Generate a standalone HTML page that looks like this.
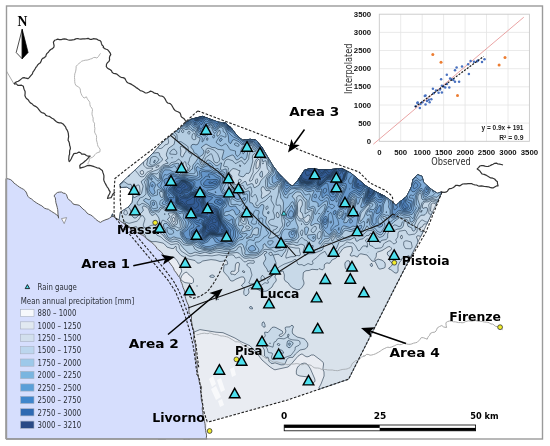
<!DOCTYPE html><html><head><meta charset="utf-8"><style>html,body{margin:0;padding:0;background:#fff;overflow:hidden}svg{display:block}</style></head><body>
<svg width="550" height="446" viewBox="0 0 550 446">
<rect width="550" height="446" fill="#fff"/>
<path d="M6.4 71L14 84" fill="none" stroke="#aaa" stroke-width="1"/>
<path d="M100.5 53.4L99.4 54.9 98.5 56.5 96.9 58 95 57.4 93.4 57.6 92 58.6 90.4 59 89 59.6 87.1 60.1 85.2 60.2 83.3 60.7 81.7 61.2 80.3 62.5 78.8 63.6 77.5 64.8 76.2 66.2 76.1 68.1 75.9 70 75.5 71.9 74.8 73.8 74.6 75.7 74.5 77.6 74.7 79.5 74.7 81.3 75 83.4 75.8 85.4 78.1 86.7 80 88.3 80.4 90.1 80.5 92 81.1 93.6 81.8 95.2 82.7 96.6 84.1 98.1 86.4 96.8 87.1 98.3 87.9 99.8 89.1 101.1 89.8 102.6 89.9 104.4 90.4 106.4 91.8 108 92.5 109.6 92.3 111.4 92 113.1 92.1 114.8 92.6 116.5 93.2 118.1 93 120 93.4 121.7 94.5 123.2 94.5 124.9 94.5 126.7 94.9 128.3 94.7 130.2 94.6 132.1 95.4 133.8 96.4 135.5 96.6 137.3 96.4 139.2 96.7 141 97.2 142.7 97.5 144.4 97.9 146.1 99 147.7 100.1 149.2 99.9 151.9 97.9 152.5 96.2 153.3 94.9 154.6 93.9 156.2 92.4 157.3 90.7 158 89.2 158.9 89.3 160.8 88.4 162.4 87.8 164" fill="none" stroke="#b4b4b4" stroke-width="1"/>
<path d="M14 84L15.2 82.6 16.7 81.8 18.3 81.2 19.7 80.2 21.1 79.1 22.6 77.9 24.2 77.6 26 78.2 27.9 78.7 29.2 77.6 30.4 76.2 31.5 74.9 32.4 73.8 32.9 72.1 34 70.6 35 69.1 35.8 67.5 36.9 66.3 37.7 64.9 38.9 63.8 40.4 62.8 41.1 61.3 41.6 59.6 42.7 58.4 44.4 57.6 45.7 56.6 46.2 54.8 47 53.4 48.4 52.3 49.4 50.7 50.7 49.5 52.5 48.6 53.9 47.1 54.1 45.5 53.7 43.8 53.4 42.1 54.6 40.3 56.2 39.8 57.7 39.1 59.4 39.6 61 39.7 62.7 39.1 64.3 38.8 66 39.1 67.7 39.7 69.3 40.2 71.1 40.1 72.6 39.8 74.2 39.6 75.8 38.9 77.4 38.5 79 38.9 80.8 39.2 82.8 38.9 84.7 38.9 86.5 38.7 88.2 38.4 89.9 39.3 91.6 39.4 93.3 38.7 95 38.8 96.9 39.2 98.2 40.1 99.9 40.5 101 41.7 101.4 43.4 102 45 103.5 46.4 103.2 47.6 104.7 48.6 106.3 49.3 107.7 49.8 109 51.3 110.1 52.8 110.8 54.7 109.8 56.2 109.4 57.9 109.6 59.8 109 61.4 107.4 62.7 106.5 64.3 106.3 66.7 107.3 68 108.7 68.9 110.3 69.7 111.5 70.8 112.1 72.3 113.5 73.4 115.3 73.6 116.9 74.1 118.2 75.3 119.5 76.4 121.1 77.3 123.1 77.6 124.8 78.4 125.8 80.3 126.8 82 128.2 83 129.9 83.6 131.6 84.4 133.3 85.5 134.8 86.6 136.1 87.6 137.6 88.4 139 89.4 140.2 90.6 141.9 91 143.5 91.8 145.1 92.8 146.8 93 148.6 92.2 150.6 91.1 152.4 91.7 153.9 92.8 155.6 93.3 157.4 93.7 158.7 95.2 160.2 96 162.2 96.2 163.7 97 164.7 98.3 165.6 99.9 166.4 101.6 167.7 103 170.2 103.7 171.7 105.2 172.7 107 173.8 109 175 110.4 176.6 111.3 178.5 112 180 113.1 180.7 114.6 181.1 116.4 182.2 117.6 183.8 118.5 184.8 119.7 186 121.7 187.3 123.6" fill="none" stroke="#333" stroke-width="1.2" stroke-linejoin="round"/>
<path d="M14 84L16.4 83.9 17.8 85.3 19.6 85.4 21.5 85.2 23.4 86.3 23.7 88.1 24.3 89.8 25.1 91.6 25.1 93.5 24.9 95.6 25.6 97.3 26.8 98.8 28.4 100 29.3 101.6 30.4 102.9 31.9 103.7 33.1 104.9 34.5 105.9 36.1 106.6 37.4 107.7 38.4 109 39.5 110.3 40.5 111.7 41.8 112.6 43.6 113.1 45 114 45.9 115.4 47.5 116 49.2 116.3 50.6 117.3 52 118.3 53.6 119 54.8 120.3 56.2 121.5 57.6 122.4 59.3 122.9 61.3 122.9 63.1 124 64.5 125.7 65.7 127.1 66.1 128.7 67.2 130.2 67.9 131.8 68.3 133.4 68.5 135.1 68.6 136.8 68.3 138.5 68.1 140.3 69 141.9 69.5 143.6 69.6 145.3 70.2 146.9 70.4 148.7 69.7 150.5 69.6 152.3 69.6 154.2 69 155.9 68.9 157.8 68.7 159.6 69.2 161.7 70.4 160.3 71.3 158.8 72 157 72.9 155.4 73.8 153.7 75.5 153.3 77.2 153.1 79 152.1 80.5 152.7 81.7 154.1 83.4 154.1 85 154.4 86.3 155.5 88.2 156.2 90.2 156.1 88.8 157.4 87.5 158.8 86.2 160.2 85.4 160.7 84 162 82.5 163.2 80.8 164.2 79.8 165.7 80 168.1 81.8 167.6 83.6 167.2 85.3 166.5 87 165.7 89.2 165.3 90.8 165.7 92.5 166.2 94.2 166.7 95.8 167.3 97.4 168 99 168.1 100.9 169.4 102.3 170.4 102.8 172.2 103.4 173.9 103.9 175.6 103.9 177.4 103.7 179.4 104.1 181 104.8 182.5 105.5 183.9 106.3 185.4 107.1 186.8 108.4 188.5 109.2 190.5 110.3 191.8 109.4 194 108.2 196.1 107.5 198.5 109.2 198 111.1 197.6 111.9 196.1 112.6 194.5 113.6 193.1 115 192" fill="none" stroke="#333" stroke-width="1.2" stroke-linejoin="round"/>
<path d="M439 193.6L440.4 192.2 442.2 192.2 444.1 192.4 445.8 192.2 447.4 191.2 448.4 189.6 449.8 188.6 451.7 188.3 452.9 187.8 454.4 186.7 455.9 185.3 457.6 185.4 459.5 185.9 461 185.1 462.7 184 464.5 183.9 466.3 183.8 468.1 183.6 469.9 183.6 471.9 183.7 473.3 184.5 474.9 184.8 476.5 185 478 185.8 479.6 186.1 481.3 185.8 482.8 186.1 484.6 186.5 486.4 186.6 488.2 186.8 490 187.4 491.8 187.9 493.4 187.8 495.1 186.7 496.9 185.8 498.1 185.8 497.5 183.7 497.4 181.8 495.9 180.5 494.6 179 492.8 178.2 490.7 177.9 489.1 177 487.5 176.1 485.9 175.1 484.2 174.4 482.1 174 481 172.7 480 171.1 478.7 170 477.2 168.9 478.5 167.6 479.9 166 481.5 165.5 483.2 165.7 484.9 166.2 486.6 166.5 488.3 166.4 489.9 165.7 491.5 164.9 493.1 164.2 494.7 163.3 496.4 163.1 497.9 164 499.6 164.2 501.4 164.5 503 165" fill="none" stroke="#333" stroke-width="1.2" stroke-linejoin="round"/>
<path d="M363.1 356L364.9 356.1 366.3 354.4 368.1 354.4 370.1 355.2 371.8 355 373.6 354.5 375.3 353.9 377 353 378.6 352.2 380.2 351.2 381.6 350.2 383.1 349.2 384.8 348.4 386.4 347.6 387.9 347.2 389.8 347.5 391.5 347 393.1 346.3 394.8 345.7 396.5 344.7 398.1 344.3 399.8 344.7 401.5 344.5 403.1 343.5 404.8 343.4 406.5 343.9 408.2 344.3 410.1 344.3 411.8 343.9 413.5 343.2 415.3 342.8 417.2 342.3 418.7 340.8 420.1 339.3 421.3 337.6 423.3 337.7 425.2 338.4 427.2 339.2 427.8 337.6 428.6 336.2 429.9 335 430.1 333.6 432.2 332.5 434.9 332.1 436.1 330.9 436.8 329.2 437.4 327.8 439.4 326.6 441.8 325.5 443.7 327 446.6 327.5 446.1 325.3 445.9 322.7 447.7 321.5 449.6 321 451.8 321.2 453.5 321.8 455.2 321.8 456.9 322.2 458.6 322.6 460.3 322.5 462.1 322.8 463.8 322.5 465.4 321.7 467.1 321.2 468.7 320.8 470.5 321 472.2 321.1 474 320.7 475.7 320.6 477.4 321 479.2 321.3 480.9 321.3 482.7 321.6 484.4 322 486.2 322.1 487.9 322.3 489.6 323.1 491 324 492.8 324.1 494.1 325 495.4 326.3 497.8 326.7 500.2 327.4 501.4 328.7 502.7 329.8" fill="none" stroke="#aaa" stroke-width="1"/>
<path d="M110 220L100 300 150 439 206 439 207 422.3 287.5 400 348.6 379.2 376 325 404 270 424 230 442 192 437.6 193.3 433 190.5 428.4 187 423.7 182.5 422 176.3 417.6 174.7 413 179.4 411.4 187 406.7 196.4 399 202.5 396 205.6 391.3 201 385 196.4 372.7 190.2 366 186 360.4 181 351 173.2 341.8 168.5 334 169 326.4 170 318 169.5 311 168.5 304.7 170 302 174 298.5 179.4 296 182 293 186 290.2 185 284.5 179.3 278.8 173.6 273.1 166 267.4 156.4 261.7 146.9 256 140.2 250.2 139.3 242.6 140.2 236.9 135.5 231.2 127.9 225.5 123.1 217.9 122.1 210.2 119.3 202.6 116.4 195 118.3 191 119.3 186.5 122.2 181 127.4 177 130.6 173 133.5 169.5 136.4 165 140.2 160 145 156 149.5 152 154.2 147 158.8 142 163.5 137 168 132.3 172.5 126 178.5 120 184 120.4 187.5 126.7 187 131.4 189.8 133 196.1 132.2 202.4 128.3 207.1 123.6 210.3 120.4 212 119.1 220.2 113 216.5 112.5 213.8Z" fill="#e9ecf2"/>
<path d="M131.9 253L131 251.1 130 251 129.5 252 129.7 253 131 253.8ZM116.3 345.3L123 344.9 129.6 343 134 342.5 140 342.5 146 343.7 147 343.4 148.3 340 147 337.6 146 337.3 137 338.5 132 337.4 127 335.6 123 335.2 119 335.7 112.8 335.6ZM127.1 364L124.3 367.5 132.6 390.7 137 390.6 139.5 390 140.7 388 140 382 140.4 379 145.1 367 144.2 363 142.9 361 141 359.7 139 359.5 134 360.3 129 359.1ZM149.4 422L149.7 425 151 427.2 155 429.4 157.4 432 158.1 434 158 439 165.9 439 161.9 435 160.7 433 162.5 429 162.9 426 162 423 160.5 421 157 418.6 154 418.2 151 419.3ZM107.1 244L110 245.6 115 250.7 118 252.3 120 252.1 121.4 251 122.8 249 124 245.5 127 244.5 130 244.2 132 244.8 135 247.4 139 249 139.3 250 137 250.2 136 250.8 135.2 252 135.6 254 137 255.2 138 255.2 139 254.6 141 252 143 252.6 147 254.9 149 253.4 152 252.3 155 252 158 252.5 160 252.3 162 253.1 163.6 256 163.7 257 162.6 260 163 261.4 166 259.2 168 259.4 169 259 172 256.8 173 256.9 175 258.2 177.3 261 180.5 267 181.8 271 178.9 277 178 278.1 175 278.1 172 278.8 163 283.8 160.6 286 158.9 291 161.8 296 161.5 300 162 301.3 166 301.9 169 303.3 172 302.7 174 303.1 175 304 176 306.1 179.6 310 177.9 315 178 318 177 319 176.6 321 175.6 322 172 323.1 164.7 330 163.9 331 164 332 165.5 333 170 334.9 178 335.1 192 332.9 200 329.6 216 332.2 223 332.7 234.9 338 241 341.7 250 345.8 256 352 262 360 270 366.9 274 369.5 275 369.8 288 367 291 364.4 298 356.2 301 354.2 302.1 354 305 356.1 307 356.9 309 356.4 311.3 355 313.8 355 321.8 361 323 362.3 323.6 364 322.9 369 324 371.9 324.1 376 321 384 318.8 388 319.8 389 348.6 379.2 424 230 442 192 437.6 193.3 433 190.5 428.4 187 423.7 182.5 422 176.3 417.6 174.7 413 179.4 411.4 187 406.7 196.4 399 202.5 396 205.6 391.3 201 385 196.4 372.7 190.2 366 186 351 173.2 341.8 168.5 326.4 170 318 169.5 311 168.5 304.7 170 298.5 179.4 293 186 290.2 185 278.8 173.6 273.1 166 261.7 146.9 256 140.2 250.2 139.3 242.6 140.2 236.9 135.5 231.2 127.9 225.5 123.1 217.9 122.1 202.6 116.4 191 119.3 186.5 122.2 181 127.4 165 140.2 160 145 152 154.2 120 184 120.4 187.5 126.7 187 131.4 189.8 133 196.1 132.2 202.4 128.3 207.1 120.4 212 119.1 220.2 113 216.5 112.5 213.8 110 220ZM187 272.3L189.2 275 192 277.1 193.4 279 193.5 282 192 283.6 185 282.6 182.2 281 180.6 279 181.6 276 184.2 273 186 272.2ZM197.5 286L197 286.4 196.6 286 197 285.8ZM159 267.7L160.9 267 161.5 266 161.8 264 161 263 160 263.6 158.3 266 158.1 267ZM298.5 366L297.1 368 296.3 371 296.4 374 297.3 375 300 376 307 376.8 308.7 378 311 381.8 312 382.6 313 382.8 314.5 382 315 381 314.8 379 310.5 369 308 365 306 363.4 304 363.1 301 364ZM189.7 439L187 438.3 183.5 439Z" fill="#d9e2eb" stroke="#1c3044" stroke-width="0.6" stroke-linejoin="round"/>
<path d="M135.7 235L136 233.7 135 233.6 134.2 234 134 235.1 135 235.7ZM210 277L213 277.5 214.1 277 214.5 276 213 275 211.9 275 209.7 276ZM218 299.9L218.3 299 217.9 299ZM250 308.6L252.4 309 252.5 308 252 307.1 251 306.5 250 306.6 249.4 308ZM110 222.3L115 225.3 123 226.6 129 230.2 131.4 228 136 226.6 136.9 227 137.3 229 139 231.6 143.9 234 144.9 235 146 238.1 151 241.3 152 241.7 156 241.6 163 243.1 164.4 244 167 247.1 172 248.6 174 248.3 175 246.6 176 246.3 176.4 247 176.1 249 176.3 250 181 255.4 188 259 195 260.5 197 262.8 198 263.2 200 262.9 202.7 261 211 259.6 216 260.2 220 261.5 223 261.2 226 259.9 227 261 227.8 264 227 264.7 225 264.7 224 265.6 223.5 271 223.9 272 228.4 277 230 280 231 280.9 233 281 236 279.1 241 277 243 276.9 244 277.4 244.8 279 245 281 244 283.1 241.7 285 241.7 286 244 288 244.4 289 243.7 292 244 294.4 245 295.5 246 295.6 247 295.2 248.8 293 249 292 248.4 289 250 287.8 252 287.5 256 288.4 261 291.2 262 291.4 266 291.2 268 290.2 272 287 273.5 284 276.1 281 276.2 279 274.8 277 275.7 275 278 272.6 283 270.9 284.4 275 284.2 279 285 280.8 288.3 283 290 285.8 293 288.1 297 289.8 300 289.3 302.3 287 304 284 303.9 282 302.9 279 303.3 273 303.9 272 306 270.7 309 270.5 312 269.3 317 269.7 318 269.6 319 268.6 322 269.8 323 269.6 324.3 268 324.3 265 324.9 264 327 262.8 329 263.4 330 263 331.9 260 336.2 258 342.6 249 344 247.9 347 246.8 351 246.4 352 247 352.4 251 350 255 350.8 256 352 256.1 354 255.5 357 257 358 256.5 358.5 255 359.9 254 361 253.8 367 255 372 261.1 375 261.3 378.3 268 379 268.9 380 269.1 384.4 268 385.1 267 385.3 264 384.4 262 382 260.2 378 259.1 375 260.7 374.8 259 376.1 257 376.5 253 377.7 252 382 250.6 388 246.8 390 246.6 391.4 248 391.5 249 390.9 250 387.6 252 387.2 254 388 255.4 391.7 258 392.3 259 389.5 260 389.7 261 392.1 263 392.5 264 391.5 266 388.8 268 388.9 269 391 269.8 395 273 397 273 398.1 271 398 266 399.8 262 401 260.7 402.3 258 409 255.7 409.7 257 408.8 260.3 417.7 242.7 417.7 240 416.4 237 417 236 418 235.7 420.8 236.4 423.2 231.5 421 231.4 420 230.8 419.2 229 419.5 228 420 227.5 422.1 227 424 224 426.9 223.9 432.3 212.5 430.5 211 431.2 204 433 202.9 435 203.6 436.1 204.4 442 192 437.6 193.3 433 190.5 428.4 187 423.7 182.5 422 176.3 417.6 174.7 413 179.4 411.4 187 406.7 196.4 399 202.5 396 205.6 391.3 201 385 196.4 372.7 190.2 366 186 351 173.2 341.8 168.5 326.4 170 318 169.5 311 168.5 304.7 170 298.5 179.4 293 186 290.2 185 278.8 173.6 273.1 166 261.7 146.9 256 140.2 250.2 139.3 242.6 140.2 236.9 135.5 231.2 127.9 225.5 123.1 217.9 122.1 202.6 116.4 191 119.3 186.5 122.2 181 127.4 165 140.2 160 145 152 154.2 120 184 120.4 187.5 126.7 187 131.4 189.8 133 196.1 132.2 202.4 128.3 207.1 120.4 212 119.1 220.2 113 216.5 112.5 213.8 110 220ZM175 220L174 222.1 173 221.6 172.1 219 173 217.5 174 217.4ZM239.5 264L238.6 269 238.8 271 235 275 233 274.2 231 274.2 230.7 273 231 271.8 232 271.2 234 271.3 235 270.8 235.4 265 236 263.3 238 262.3 239 262.9ZM245 272L244 272.8 242.7 272 242.4 271 244 270.8ZM259.8 162L259 166.9 257 168.8 256 168.5 256 164 257 161.1 258 159.7 259 159.3 259.7 160ZM368 252L368.1 252 368 252.1ZM402.5 238L402 238.7 401 238.6 400.5 238 400.3 237 401 235.5 402 235.4ZM143.7 172L143.3 174 142 174.5 140.8 174 140 172 140.6 171 142 170.5 143 170.8ZM408.2 261.6L407.5 263 407.5 263ZM371 266.4L372 266.4 372.5 266 372 263.5 371 263.5 370 264.9ZM344.8 264L345.3 268 346 269.1 347 269.3 349.4 265 349.9 262 349 260.8 347 260.8 345.5 262ZM262 325.4L263 326.7 264 327.2 265.1 327 265 324.8 264 322.1 263 321.9 262.1 323ZM290 326.9L286 327 285 327.8 285.9 331 285.3 333 282.4 336 281 336.6 279.3 336 279.2 335 280 334.3 282 333.9 282.9 333 282.3 331 276 327.6 274 327 272 327.5 268 332.6 264.8 332 264.6 333 265.3 336 260.6 341 260.5 343 264.4 350 264.6 356 266 357.4 268 357.2 268.5 358 268.8 361 271 363.3 273 363.5 275 362.8 281 364.9 284 364.7 284.9 364 287.1 359 288 358.1 290 357.4 293 357.3 295.4 354 300 350 305.3 349 307.3 347 307.9 345 307.6 343 305 339.5 304 338.8 297.1 337 292.9 334 292.2 332 292.5 329 293.5 327 293 325.9 292 325.3 291 325.6ZM270.4 343L270 343.5 269.6 343 270 342.7Z" fill="#c8d9e8" stroke="#1c3044" stroke-width="0.6" stroke-linejoin="round"/>
<path d="M172.2 134.1L175 135.7 175.6 137 174.2 144 173.4 145 168.8 148 168.1 149 166.3 154 166.6 156 167.9 158 167.5 159 165.8 160 165.7 161 168 162.7 168 163.3 166 163.5 162.8 165 158 169.5 150 172.4 147.1 175 145 178.6 141.5 181 141.2 182 143.2 186 141.6 193 140 195.1 137 196.1 135 197.4 134 197.6 132.9 196.5 132.2 202.4 128.2 207.2 130 209.1 132.1 216 134 218 136 217.9 143.1 211 143.3 210 142.2 207 143 206.2 144 205.9 147 207.3 148.5 209 149.9 213 151 214.6 152 215.4 153 215.3 155 213.8 156 213.7 158.9 218 159.6 222 158.4 226 158.1 231 158.9 232 162.9 235 166 239 170 241.6 172 242.1 176 241.3 179 242.4 183 247.9 188.4 253 190 253.8 192 253.5 195 252.1 200 253.6 205 252.2 210 253.6 216 252 226 253.6 237 252.5 239 253.2 242.5 257 244 258 246 258.3 250 257.8 253 258.3 257 257.4 262.4 254 264 251.6 266 251.4 267 252 266.5 253 264.6 254 264.3 255 265.5 257 265.8 259 263.4 263 264.1 265 266.9 269 268 272 274 268.5 276 265 276 262.8 273.2 255 278 254.2 279 254.5 281 256.6 282 256.4 283.2 254 285.6 251 286.7 246 288 245 293 244.1 296 245.5 298 245.3 301 244.1 303.7 245 304.5 246 304.5 247 303 252 305 255.6 308 253.8 313 253.6 322 250.3 323 249 323.5 245 325 243.6 331 243 333.8 246 334.2 249 335 249.9 336.3 249 339 242.4 340 241.4 343 241.3 347 239.8 350 239.9 354 237.6 355.2 238 356.1 241 357 241.4 360 239.4 363 238.8 366 235.8 369 235.4 370 233.6 371 233.2 374.9 236 376.2 239 379 241 380 243 380.9 241 382 240.3 386 239.6 387.7 238 387.7 234 389 231 390 230.2 392 229.8 395 230.3 397 229.2 400 228.9 401.9 228 403.3 226 404 222.2 405 221.1 406 220.9 406.8 222 408 226.3 411.9 228 412.1 230 413 231 414 231.1 415.3 230 415.4 228 414.5 226 414.6 225 417 219.6 421 215.2 424 215.2 425 214.7 426.5 213 427.4 211 427.6 209 427 207.7 425 207.6 423 208.5 422.6 208 422.3 206 423.4 203 425 201.9 428 201.9 432 199.8 434 200.1 437.5 201.5 442 192 437.6 193.3 433 190.5 428.4 187 423.7 182.5 422 176.3 417.6 174.7 413 179.4 411.4 187 406.7 196.4 399 202.5 396 205.6 391.3 201 385 196.4 372.7 190.2 366 186 351 173.2 341.8 168.5 326.4 170 318 169.5 311 168.5 304.7 170 298.5 179.4 293 186 290.2 185 278.8 173.6 273.1 166 261.7 146.9 256 140.2 250.2 139.3 242.6 140.2 236.9 135.5 231.2 127.9 225.5 123.1 217.9 122.1 202.6 116.4 191 119.3 186.5 122.2 181 127.4ZM181 146L185.9 149 186.2 151 184.2 154 183 156.8 182 157 181 156.4 180.5 155 180.9 151 180.2 147ZM209.1 152L208 153.3 206.9 153 207 151.5 208 150.4 209.2 151ZM239.6 165L240 164.8 241 166 240 166.7 239.5 166ZM255 153.5L257 156.6 260 155.5 261 155.8 263 162 265 160.7 266 160.8 267.4 169 269.3 171 268 173.5 261 180.4 259 185 255 187.6 254 187.6 252.8 184 252 183.6 251 183.7 247 185.3 246 181.8 245 181.2 239 185.5 238 185.6 236 184.6 233 185 231.7 180 231.9 176 229.3 173 230 171.1 233 168.5 236 169.1 239 170.7 240 170.7 238.5 175 239.5 176 243 176.9 244.3 176 246 173.5 247 173.2 248 173.6 249 173.1 250 171.6 252.8 161 252.3 157 253 155 254 153.9ZM279.2 215L279 217.1 278 217.8 277 217.4 276.1 215 277 212.1 278 212.6ZM302.3 202L302.3 205 300.7 208 300.3 211 300.6 212 302 212.9 303.5 218 304 218.3 308 215.1 309 215 310 216.1 310.1 218 309.4 220 308 222 307 222.6 306 222.7 305 221.8 303 218.4 302.1 219 300 219 297.2 215 297.7 212 297.4 203 299 200.4 300 199.6 301.4 200ZM334 239.4L332 241.3 331.6 240 331.9 238 333 236.2 334 236.3 334.3 237ZM352 205.6L352.1 203 353 202.3 353.5 203 353.3 204 353 205ZM420.9 211L422 211 421 212.5 420.6 212ZM422 210L422 210.7 422 210ZM165.4 214L165 214.4 164.2 214 165 213.8ZM173.3 213L175 213.9 176.6 216 177.7 222 177 224.2 173 226.2 172 226 170 222.1 167.6 220 167.7 219 169 218.1 170 216.3 168.3 214 168.7 213ZM172.4 158L172 158.2 171.7 158 172 157.6ZM185.7 162L186.3 166 187.9 168 187.9 169 187 171.1 185 172 183.6 171 184.1 168 182.8 166 182.7 165 183.3 163 185 161.4ZM244.7 220L244 221.6 243 221.4 241.8 220 241.7 218 243 217.2 244 217.5ZM264 187.1L266 190.6 270 190.7 270.5 191 270.5 192 268.9 194 262 198.6 261.2 197 261.9 193 261 190 261.3 188 262 186.9 263 186.6ZM272 252.9L272.5 255 270 255.4 269 254.1 268.8 253 271 252.1ZM132.4 193.8L133.5 192 133.3 191 131.2 189 131.8 186 131 184.3 128 184.3 124 181.5 123 182 121.3 184 120 184.1 120.4 187.5 126.7 187 131.4 189.8ZM148.1 158L146.7 164 146.9 165 147.8 166 149 166.3 152 166.6 154 166.1 158 163.4 160 162.6 162.4 160 162.5 159 160 156 159.2 153 158 152.5 152.9 153.2ZM263 162.8L262.8 164 263 164.1 263.1 164ZM128.1 176.5L129.3 176 129.6 175.1ZM260 176L261 177.2 262.2 177 262.6 174 262 171.1 261 171.6 259.6 174ZM286.8 346L288 347.4 290 347.7 293 344 293.1 343 292.3 342 290.2 341 288 340.6 287.2 342ZM280 352L283 353.5 283.7 353 283.4 352 281.7 350 280 349.8 279.4 351Z" fill="#b4cde2" stroke="#1c3044" stroke-width="0.6" stroke-linejoin="round"/>
<path d="M176.2 131.2L179 132.8 180 129.4 181 128.6 183 128 186 129.7 189 128.8 190 129.2 192 131.2 195 130.6 195.4 131 196.5 136 197 136.7 200 137.9 199.8 140 198 144.1 196 144.9 194 144.3 192 144.6 191.1 146 191 147.2 191.2 148 193 149.5 194 152.7 197 154.2 198.9 157 195.6 162 193 165 192.4 169 191 169.6 189.3 172 187 173.4 184 174 181.6 173 180 170 178 168 178 166.3 179.2 164 178 163.2 173 164.2 169 166.7 165 166.7 163 167.5 161.7 169 159.3 174 159.5 178 159 179.2 158 178.9 153 174.6 151 174.6 150 175.3 148.6 177 146.9 181 147.2 185 146.6 189 148.3 195 150.8 198 150.3 199 149 199.9 146 198.5 145 198.7 143.7 200 143.8 201 149 204.7 152 211.1 153 211.3 155 210.4 158 210.4 159 209.7 160 207.5 162 207 164 207.7 167 210.4 170 210.5 175 211.8 177.8 215 181.6 222 182.3 227 181 229.1 177 231 175 228.8 172 228.3 170 227.4 167 223.6 165 223.3 164 223.8 163.4 225 163.7 227 165.7 230 165.9 233 167.8 237 168.8 238 171 238.3 173 237.1 174 236.9 177 238 180 238.4 182 239.9 183.1 242 184 242.8 188 244 193 243.9 197 247.4 203 249.4 207 249.8 210 250.7 217 248.3 222 248.8 225 249.8 230 249.6 234 248.4 238 244.9 241 243.7 242 244 243 245.1 245.2 251 244.7 253 245 254.3 247 254.9 250 254.3 256 254.1 259.1 253 263.2 248 263 245 264 243.9 265 243.8 266.1 246 269 248.1 271 248.1 274 247.1 276 248.4 280 248.3 281.1 248 281.7 247 281.7 244 285 241.5 286 241.3 289 242 292 240.7 296 239.9 298.8 237 298.9 236 297.7 232 298.2 227 296.1 222 295.1 217 296.2 209 296 207.1 294.9 204 295 200 294 198.3 292.3 197 292.3 196 295 192.9 297 191.8 300 192.1 301 192.7 304.5 198 307 199.8 307 209 308 209.9 309 209.8 312 208.3 313 208.2 313.7 209 313.9 210 313 214 313.4 218 311 223 310.7 225 311 225.7 312 225.5 315 223.5 319.2 224 319.6 225 319.5 228 322 230.9 322.5 233 321.6 239 319 242 319 243.3 320 244.3 324 239.3 325 238.7 328 238.6 329 238 332 234.2 334 232.8 335 233.1 337 236.9 338 237.5 340 236.6 341.7 235 344 231.1 346 230.2 350 231.6 352 231.2 355 229.8 356 230 356.8 231 357.4 233 359 234 364 231.1 367 225.8 369 228.4 373 229.1 376 232.6 379 234.6 381 234.9 382.2 234 385 230.1 387 225.1 388 224.1 391 224.5 391.9 224 394 221.7 400 217.2 403 218.3 406 217.6 409 217.5 410 218.2 410 221 410.5 222 412 222 414 219.9 415.9 214 419.8 208 420 206 417.7 199 417.9 196 419 193.8 420 193 421 193.4 421.9 199 423 199.9 427 199.3 434 196.8 437 197.3 439 195 440.9 194.3 442 192 437.6 193.3 433 190.5 428.4 187 423.7 182.5 422 176.3 417.6 174.7 413 179.4 411.4 187 406.7 196.4 399 202.5 396 205.6 391.3 201 385 196.4 372.7 190.2 366 186 351 173.2 341.8 168.5 326.4 170 318 169.5 311 168.5 304.7 170 298.5 179.4 293 186 290.2 185 278.8 173.6 273.1 166 261.7 146.9 256 140.2 250.2 139.3 242.6 140.2 236.9 135.5 231.2 127.9 225.5 123.1 217.9 122.1 202.6 116.4 191 119.3 186.5 122.2 181 127.4ZM206 144L212 147.5 215 147.6 218 149.4 223.6 150 223.9 151 222 158 222 159 223 160.2 227 157.1 232 155 233 155.1 234 156 236 159.6 237 159.9 238 159.6 241 157.2 242 157.2 244 159.7 245 160 246.5 158 247.1 156 247.8 151 247.6 148 249.4 146 251 145.1 252 145.7 253.2 149 254 149.9 256 150.3 258 152.5 259 153 262 153.2 264 155.9 268.1 158 269 163.4 271.4 166 272.1 168 272.5 171 272 172.6 267.7 178 267.2 181 267.7 187 269 187.4 271 186.8 274 187.1 278 184 279 183.9 280 184.8 280.2 187 279.7 192 280.7 195 280.7 198 282.6 200 283.5 203 283.2 210 282.6 213 283.1 217 284.9 221 284.4 226 283.5 228 281.2 231 280 234.5 279 235.4 277 235.5 273 237.9 270 238.3 268.5 238 268.6 237 270.6 234 270.6 232 269.5 228 265.8 223 265.7 221 266.5 218 266.4 217 263.9 216 262.7 214 262.7 212 263.9 207 263.7 205 263 204.5 261 204.8 259 207.5 258 208 254.5 207 252.2 203 250 202.7 249.6 202 249.6 192 249 190.9 248 190.9 245 192 244 191.7 242.2 188 241 187.5 238 189.2 235 188.5 231 189.1 229 188 228 185 228.8 182 226.7 176 226.2 169 225 169 222 170.3 221 170.1 220.4 169 221.6 163 221 162.7 218 165.3 216 165.7 211 161.2 208 159.7 207.4 160 205.5 163 203 164.8 202 165.1 201 164.4 200 162 200 159 199.3 157 203 154.5 204 152 203.5 150 201.4 148 201.7 147ZM207.7 140L207 140.6 206.6 140 206.3 139 207 137.9 208 138ZM210.1 131L210 131.1 210 130.8ZM220 134L218 136.2 217 136 216.8 134 219 130.2 220 130.5 220.3 133ZM246.6 148L244.2 153 243 154.1 242.8 152 243.8 148 245 146.9 246.1 147ZM318.8 214L319.2 213 319 214.1ZM355.1 202L355.1 204 353.5 209 352.9 213 351.7 215 350 215.7 349 215.1 348.8 214 350.7 202 352 200 353 199.3 354 199.3ZM370 206.1L366.3 211 364 217.1 361.1 221 360 221.4 359.6 219 361 212.9 367.9 205 369 204.7 369.7 205ZM384 216.2L387.3 218 386.5 219 385 219.4 383 218.1 382.6 217 383 216.3ZM163.2 193L163 196.8 162 197.7 160.8 197 160.3 196 159.4 193 159.5 192 161 191.4 162 191.6ZM243 214.5L246.6 216 247.1 219 248.5 222 248.5 224 251.4 226 252.3 227 252.4 228 250 230.4 246 230.8 243 232.1 242 231.9 241.4 230 243.4 227 243.5 226 242 224.9 239 225.9 238.4 225 239.2 221 238.8 218 239.8 216 241 214.9ZM250.1 215L248.6 215 249 214 250.4 214ZM258.6 229L258.2 234 257.6 235 256 235.1 253 234.2 252 237.1 249 237.7 247 238.8 246.1 238 250 236 250.8 235 252.8 230 254 228.6 256 227.7 258 227.9ZM367.2 222L367 223.2 367.2 220 368 218.4 368.7 219 368.7 220 368 221.8ZM154 163L155 161.8 155 159.9 153.5 162ZM268 214L269 213.3 269 211.6 267.7 212 267.5 213ZM302 224L301 224.1 302 224ZM304.6 228L305 234.6 306.5 235 308.4 230 308.6 228 307 226.8 305.6 227ZM308 238.1L312 241 313 241.5 314 241.4 315 240.6 315.8 239 315.7 235 315 234.3 308 235.1 307.2 236ZM311 248.8L312.5 248 313.2 247 313 245.4 309.2 247 309.4 248Z" fill="#9cc0e0" stroke="#1c3044" stroke-width="0.6" stroke-linejoin="round"/>
<path d="M220 141.5L221 141.1 222 139.8 222.2 139 221.1 138 219.9 139 219.5 141ZM152 179.9L152.2 178 151 177.8 150.6 179 151 180.3ZM150.4 183L148.9 189 149.1 190 151.7 194 153 194.4 154 194.1 155 193 155 192 153.9 189 155.4 186 155.2 184 154 182.2 152 181.4ZM244 200.5L245 200.3 245.7 199 245 197.4 243.1 198 242.4 199ZM152.4 205L153 205.7 154.4 205 154.7 203 154 202 153 201.9 152 202.9ZM206 166L201 168.7 200 168.5 198 166.5 196.7 167 195.9 169 197.6 173 197.8 175 197.2 176 196 176.3 190 175.4 183 175.6 179 174.3 176 171.8 173 171.9 169.9 170 165 169.8 164 170.4 162 174 161 180.7 160 182.3 157.3 184 156.9 185 159.4 188 163 190 164 191.1 164.7 193 164.8 199 164 200.6 162 203 162.3 204 165.5 205 168 207 171.7 209 175.5 210 179 213.4 180 213.6 182 212.8 183 213.1 183.6 215 183 218 185.9 222 185.9 226 185.2 228 182 231 181.2 233 182.5 237 186 240.8 188 241.8 197 242.6 200.9 246 204 247.5 206 247.9 211 248.2 217 245.7 222.5 246 226 247 229 246.8 234 244.6 238 238.8 239 238 242 237.2 242.6 236 239.9 234 238 230 236 227.4 234 223 234.2 219 233.2 217 229 214.4 227 215.5 225 215.8 224 215.1 223.9 214 225 212.2 226 211.6 229 211.4 232 209.7 233 209.8 234 210.6 236 214.9 237 215.1 239.4 213 240 211 237.5 209 236 206.3 234 206 231 206.8 229 205.6 228.4 204 229.9 197 231 194.7 232 194 233 194 233.5 197 236 198.9 238 199.6 239.8 199 240.2 198 239.7 196 240.1 193 239 192.5 231 191.7 227 193.2 224 192.6 222.6 191 221.7 188 222.1 186 224.6 182 223.5 174 219 172.5 217 170.6 214 170.8 210.4 168 209.7 166 209 165.6ZM183.4 125.1L187 126.8 190 124.7 191 124.7 193 127.4 196 126.9 197 128.1 198 132.3 199 133.2 201 133.6 203 135.5 204 135.9 206 135.1 206.9 134 206.7 129 208 126.7 210 125 211 125 212 126 213.2 129 215 130.7 216 130.3 219 126.5 221 126.1 223 126.6 224 127.1 224.6 128 227.7 134 228.3 136 228.8 142 230 143.5 231 143.2 232.6 140 234 139.5 239 141.8 242 144.9 252 143 253.4 144 255 146.5 257.4 148 259 150.3 260 151 263 151.6 265.6 153.4 261.7 146.9 256 140.2 250.2 139.3 242.6 140.2 236.9 135.5 231.2 127.9 225.5 123.1 217.9 122.1 202.6 116.4 191 119.3 186.5 122.2ZM273.8 167L275.5 173 275 174.6 272 177 272.3 182 272.9 183 274 183.5 278 181.2 280 181.2 281.7 182 282.1 188 285 194.8 286 194.8 291 188.9 302 187.9 305 190.5 308 191.7 311 191.3 313 190.5 314 190.8 313.9 192 312.3 195 311.6 200 312.1 201 313 201.5 316 201.8 317.8 203 318.2 204 318 206.7 319 206.4 323 202.7 326 200.9 327 200.9 327.5 203 327.4 205 324 212.7 320.9 217 320 219 322.9 228 325 231.2 328 234.1 329 234.5 330 234.1 333 230.6 335 229.4 336 230.1 338 233.6 339.3 234 340.3 233 341.6 228 343 226 344 225.8 350 227.7 353 226 355 226.6 356.6 226 358 216 357 211.1 356.5 213 353.9 217 349 218.9 347 222.4 344 222.9 343.5 222 347 214.4 349.1 202 351.9 197 353 196 355 196.2 356 197.2 357 203.5 358 204.4 359.3 202 360.1 199 361 197.7 362 197.3 362.5 199 362.2 202 360.7 206 361 207.5 362 207.7 363 207.1 369 202.7 373 201.5 374.4 202 376.1 205 376 206.2 375 208.1 374 209.4 373 209.8 371 209.2 370 209.7 368.9 211 369 212.1 372 211.7 372.4 213 370.8 223 371.8 225 373 225.9 375 226.3 377 225.8 379 227.3 380 227.2 382 226.3 382.8 225 382 223.6 381 223.3 379 223.7 378.1 223 378.1 219 383.1 212 383.4 205 386 199.1 387 198.7 388.1 200 389 204 388.5 207 390.1 210 390.1 215 391 217.6 393 218.1 395 217.6 397 216.1 398.5 214 400 213.1 404 214.5 408 213.8 412 214.6 416.6 208 415 206.4 414.5 205 415.4 196 416.9 193 419 190.7 421 190.1 422 190.7 422.9 192 424.3 196 425 196.8 426 196.8 428.9 194 431 189 423.7 182.5 422 176.3 417.6 174.7 413 179.4 411.4 187 406.7 196.4 399 202.5 396 205.6 391.3 201 385 196.4 372.7 190.2 366 186 351 173.2 341.8 168.5 326.4 170 318 169.5 311 168.5 304.7 170 298.5 179.4 293 186 290.2 185 278.8 173.6ZM330.1 223L330 221.8 331 220.8 331.5 222 331.2 223ZM343.9 211L343.6 213 340 218.4 339 218.5 338 217.7 337.2 216 337.3 215 338.5 212 340 210 341 209.6 342.6 210ZM433 192.2L434 192 434.5 191.4 432.3 190ZM291 205.9L287.3 212 286 216.2 286.3 217 287.8 218 292 218.9 293.4 217 294.4 212 294.2 210 292.7 208 292 205.4ZM386 211.9L386 212.5 387 212 387 212ZM358.2 227L359 228.9 360 229.4 361 228.7 362 226 361.2 225 358.8 226ZM289.1 232L288.7 234 289.8 237 291 238.1 293 237.7 294 236.7 295.2 234 295.5 232 295 230.1 293 229.9ZM248.5 249L250 250.9 252 251.3 255.5 250 255.8 249 254 246 252 245.3 249.3 247 248.5 248Z" fill="#80acd8" stroke="#1c3044" stroke-width="0.6" stroke-linejoin="round"/>
<path d="M185 123.6L187 124.6 191 122.1 192 122.5 194 124.7 197 124.4 198 125.1 198.7 129 200 130.5 201.9 130 203 129 205.9 124 207 123.5 212 122.8 213 123.7 215 127.3 216 127.3 220 124 224 125 225 125.5 228 130.3 232.9 133 235.2 136 239 138.1 243 142.2 247 141.5 253 141.5 254.1 142 256.6 145 259 146.8 260.6 149 262 149.6 263.3 149.5 261.7 146.9 256 140.2 250.2 139.3 242.6 140.2 236.9 135.5 231.2 127.9 225.5 123.1 217.9 122.1 202.6 116.4 191 119.3 186.5 122.2ZM278 172.7L277.6 176 278 178 279.2 179 283 180.1 283.8 182 284 186.2 286 188.8 287 189.3 288.8 187 291.4 185.4 290.2 185ZM294 185.8L297 185.4 303 186.1 306 187.9 310 188.5 314 186.5 315 186.5 317 189.8 318 190.1 321 188.8 321.5 189 321.7 190 322 197.6 323 197.9 325 195.6 327 194.8 329 196.2 331 200.4 333 200.9 334 200.2 336.1 197 340.8 187 342 185.7 344 185.1 345.1 186 345.1 188 339 201 337.9 206 339 206.9 341 206.7 344 207.2 345 206.5 350.2 195 351 193.9 354 192.7 355 192.7 359 195.5 361 194.4 364 190.8 365 190.8 365.4 193 364.1 200 365 202.7 366 202.8 374 198.7 375 198.8 378 201.9 380 202.6 381 202.4 383 200.5 385.6 196.8 372.7 190.2 366 186 351 173.2 341.8 168.5 326.4 170 318 169.5 311 168.5 304.7 170 298.5 179.4 293.5 185.3ZM200.8 173L202 177 201.4 178 199 179.6 197 180.2 194 179.3 189 179.1 185 177.5 179 176.7 173 174.4 171 174.3 170 174.7 168.4 177 168.7 178 171 179.4 171.1 181 170 181 168.8 180 168 178.4 167 178.2 165 179 164 179.9 163.8 181 165.4 185 164 185.9 163.5 187 165.1 190 166.5 194 166.7 202 168 203.3 172 204.7 174.2 207 178 208.2 184 211 186.3 213 187.4 218 191.4 224 191.3 225 189 227.2 187.1 230 185 231.2 183.5 233 184 235.2 185.9 238 187 238.9 189 239 193 240.6 197.3 240 201 243 203 243.8 208 241.6 210.6 238 212 237.5 213.3 238 215.5 242 218.1 243 222 243.6 226 242.7 229 243.6 232 243.1 233.1 242 234 239.4 235.5 237 235.4 231 232.4 225 224 219.6 222.8 218 221.8 215 222.2 208 225 204.8 226.9 199 227 196.9 226 195.7 224 195.2 217 195.9 214 194.3 208 192.3 206.8 191 207.5 190 210 190.1 215 188.7 218 186.6 219.4 185 220.9 181 220.9 178 220 176.5 218 175.9 215.7 174 209 171.6 206 171.8 203 171.2 202 171.4 201.2 172ZM327.7 211L327.8 212 328 212 328.2 211ZM322.7 220L322.9 222 324 224.1 325 224.8 326 224.5 327 223 327.6 220 327 217.5 326 216.1 324 217.3ZM412.9 183L410.8 188.2 410.8 190 412 191.5 414 191.9 420 187 420.9 185 420.8 184 417 180.3 416 180 414.5 181ZM424.9 188L424.7 191 426 192.7 427 192.3 428 190.9 429.3 187.7 426.9 185.5ZM391.9 201.5L392.4 206 392.4 213 393 215.2 394 215.4 394.6 215 397 211.7 399 210.5 400 210.3 403 211.6 405 211.9 410 211 411.2 210 412.2 203 412 201 408.3 200 407 196 399 202.5 396 205.6ZM377.1 209L375.8 212 376 213.3 377 213.6 379 213 380.5 211 381 207 380 204.9ZM335.3 214L336.1 212 336 211 335 210.4 333.9 211 333 213 334 214.9Z" fill="#6596ca" stroke="#1c3044" stroke-width="0.6" stroke-linejoin="round"/>
<path d="M187 122.5L191 119.8 192 119.6 193 120.4 194 122.2 195 122.7 198 121.6 199 121.8 201 124.7 202 124.3 204 120.9 206 119.1 207 119.2 209 120.8 213.3 121 216 123.5 217 123.6 219.2 122.3 202.6 116.4 191 119.3 186.5 122.2ZM223 123L226 124.1 227.9 128 229 128.9 232.5 129.6 231.2 127.9 225.5 123.1ZM247.5 139.6L250 140.2 252.7 139.7 250.2 139.3ZM297 181L298 181.5 300 184.1 304 184.6 306 185.8 312 185.1 315 183.7 316 184.1 318 187.6 320 186.8 327 181.2 330 181.9 332 181.4 334 182.6 340 184.1 343 182.6 345.9 180 346.7 178 347 174 348.5 171.9 341.8 168.5 326.4 170 318 169.5 311 168.5 304.7 170 298.5 179.4ZM255 140.1L254.6 140 254.6 140ZM258.6 144L262.1 147.5 258 142.7ZM282.4 177.2L280 174.8 280 176 280.8 177ZM287 183.6L288 183.7 288.4 183.2 285 179.8 286 182.7ZM204 182.5L203.4 184 204 185.1 207 185.8 212 185.9 217 184.2 218 183.4 218.4 182 218 180.2 217 179.6 215 179.4 210 179.8 207 179.2ZM332.1 194L333 194.6 334.2 194 333.3 190 332 188.9 331.3 191ZM214.4 201L214.7 203 220 205.5 222.6 204 223.5 202 222.9 200 221 198.6 216 199.6ZM175 179.4L172.5 185 169.7 187 167.9 190 168.5 192 172.5 195 173.9 197 174 198 171 197.3 169 197.5 168.5 198 168.5 200 169 201.1 170 201.9 174 202.3 176 205.3 180 206.7 182 208.4 187 211 188.9 213 189.6 217 192 220.5 196 224.2 199.7 226 197 226.5 196 227.2 194.9 229 192 231 191.3 232 191.1 234 193 238.3 197 237.7 199 237.9 202 240.6 203 240.9 206 239.4 209.5 236 211 235.2 217 236.6 220 236.1 225 237.4 228 238.7 230 238.5 230.9 237 230.3 233 231 230 230 228.5 227.3 226 226.2 224 221.8 220 220.6 216 220.1 211 218.9 208 218 206.8 215 205.8 213 203.9 211 203.4 209 203.6 208.3 203 208.1 202 212.7 198 212.1 197 207 195.9 204.7 192 203 190.7 195 189.1 193.6 187 193.2 185 193.5 183 192.7 182 184 179.1 176 178.5ZM354 179L352.2 186 352.1 188 355.4 189 359 191.6 360 191.8 361 191.3 364 187.9 365 187.4 366.2 188 367.2 191 365.7 198 366 200.2 367 200.6 368 200.3 371.8 198 374.1 196 376.6 192.1 366 186 355.2 176.7ZM350 189L350 188.9 349.5 189ZM377.5 193L378.1 196 379 197.5 382 197.9 384.4 196.1 377.8 192.8ZM343.1 202L343 201.7 342.9 202ZM400.2 201.6L401 206.3 403 209.3 404 210 405 210 407.9 208 408.4 206 408 205 406 203.4 405.4 200 404.4 198.2Z" fill="#5082bc" stroke="#1c3044" stroke-width="0.6" stroke-linejoin="round"/>
<path d="M194.6 119L196 120 199 119 202 119 204.6 117.2 202.6 116.4 194.4 118.4ZM229.5 127L230.3 127.1 228.4 125.5 228.5 126ZM179 183.1L175 185 171.8 189 171.5 190 176.4 196 176.8 198 176.4 202 177 203.2 181 205 183.1 207 189 210.5 191 212.4 193.3 216 195 217.4 196 217.5 199 216.5 205.1 219 202.8 222 202.7 223 204.1 227 201.7 231 201.9 234 203 237.1 204 237.5 205 237.2 210 233.6 216 234.6 222 234.3 224 233.7 226 232.2 226.5 231 226.3 230 220 220 217 210.2 216 209.4 213 208.8 211 207.5 207 206.9 204.2 204 203.4 200 204.1 195 203.4 193 201 192 196 192 191 192.8 190 192.2 191.4 188 191 186 188.7 183 184.9 181 183 180.5 181 180.8ZM196 234L196 234 195.4 234ZM299 179L301 182.4 304 182.4 307 183.7 312 182.8 315 180 317 179.7 317.7 181 318 184 319 185.2 320 184.9 322.5 183 327 178.4 331 177.6 333 174.4 335 172.5 336.2 173 336.5 178 337 178.9 339.1 181 341 181.6 342.1 181 343.7 179 345.4 173 346.8 171 341.8 168.5 326.4 170 318 169.5 311 168.5 304.7 170ZM355.9 184L356.2 186 358 186.6 361 185.3 364 185 364.2 184.4 357.6 178.7 356.8 179 356.8 181ZM369 187.9L367.8 197 368 197.4 369 197.5 373 194 374.3 191ZM381 195.2L382 195.5 382.5 195.2 380 194Z" fill="#406eaa" stroke="#1c3044" stroke-width="0.6" stroke-linejoin="round"/>
<path d="M179 186.5L176 186.8 175 187.9 174.9 189 176 190.9 180 193.7 181 193.3 182.3 191 184 189.4 187.7 189 188.4 188 188.2 187 186.1 184 185.1 183 184 182.7 182 183 180.9 185ZM191.3 195L187 197.9 183 197 180 197.5 179 198.5 178.4 201 178.8 202 183 203.5 184.2 205 187 207 191 207.3 192 208 193 211.1 196.9 214 201.2 214 202.6 213 203 212 203 209 201.3 206 200.9 203 200 201.1 198.3 200 200 199.2 202 197.1 202 194.1 199 193.7ZM196.5 211L198 209.3 198.8 210 198.7 211 198 211.7 197 211.8ZM210.3 218L206.2 225 205 231 205.3 232 206 232.6 210 231.6 214 232.7 216 232.5 217.1 232 219.9 225 217 216 215 214.3 211 215.9ZM300.6 176.2L302 179.5 302.7 180 305 180.5 307 181.5 310 181.1 312 179.9 316 175.5 317 175.2 322 178.2 323 177.9 325 176.1 330 175.5 334 170.6 336.3 168.9 326.4 170 318 169.5 311 168.5 304.7 170ZM338.2 168.7L339 170.7 340 171.1 343.3 169.3 341.8 168.5Z" fill="#335c96" stroke="#1c3044" stroke-width="0.6" stroke-linejoin="round"/>
<path d="M209 379L213 376 216 384 212 387Z" fill="#f8f9fb"/>
<path d="M211 389L216 386 221 397 216 400Z" fill="#f8f9fb"/>
<path d="M217 380L221 378 225 390 221 392Z" fill="#f8f9fb"/>
<path d="M230 369L234 367 236 375 232 377Z" fill="#f8f9fb"/>
<path d="M218 401L222 399 224 405 220 407Z" fill="#f8f9fb"/>
<path d="M196.5 334.7L198.1 334.6 199.7 334 201.3 333.6 203 333.3 204.6 333.2 206.3 333.5 208 333.7 209.6 332.9 211.3 333.2 212.8 334 214.4 334.5 216.2 334.6 217.9 334.8 219.4 335.5 221.1 336 222.9 335.9 224.6 336.3 226.4 336.7 228.1 337.2 229.6 338.1 231.1 339 232.7 339.9 234.2 340.9 235.7 341.8 237.6 341.8 239.6 342 240.9 343.3 242 344.7 243.6 345.4 245.3 345.9 246.8 346.8 248.3 347.7 249.6 348.9 250.9 350.1 252.5 350.8 253.9 351.8 255.3 352.9 256.9 353.4 258.4 354.1 259.9 355 261.5 355.5 263.1 356.1 264.3 357.3 265.7 358.2 267.4 358.6 268.8 359.5 270.3 360.3 271.8 361.2 273.3 362.1 274.9 362.1 276.7 361.7 278.3 362.2 279.9 362.8 281.5 363.1 283.1 363.5 284.7 363.8 286.3 364.4 288 364.8 289.6 364.3 291.3 364.1 292.9 364.1 294.6 363.9 296.2 363.6 297.9 363.7 299.6 364.2 301.2 364.7 302.9 364.6 304.6 363.8 306.3 364.2 307.9 364.9 309.7 364.9 311.3 365.5 312.7 366.7 314.2 367.7 315.9 368 317.7 368 319.4 368.3 321 369.1 322.6 369.7 324.2 369.5 325.9 369.5 327.5 369.9 329.1 370 330.8 370 332.4 370 333.9 370.4 335.6 370.5 337.3 370.7 339 370.4 340.6 369.9 342.2 369.5 343.8 369.3 345.5 369.2 347.1 368.9 348.7 368.2 350 367.8 351 366.3 351.7 364.6 352.6 363.1 354.1 362 355.6 360.7 357.4 360.4 359.1 359.8 360.1 358.3 361.4 357.1 363.1 356.5 364.5 355.6" fill="none" stroke="#9ea3a8" stroke-width="0.8"/>
<path d="M259 157.5L256.5 159 255.3 161 253.1 169 253.3 172 249.5 180 249.3 181 250 181.5 252.3 180 254.2 175 258 171.1 260.1 168 261 160 260 157.3 259 157.5M157 165.7L155.6 167 156 167.5 158 167 159.1 166 159 165.3 158 165.1 157 165.7M257 178.6L255.6 180 255.6 183 256 183.8 257 183.2 257.7 181 257.8 180 257 178.6M239 179.4L238.1 181 239 182.8 241 181.5 241.3 180 240 179.1 239 179.4M138 184.9L136 186 135.7 187 137 193 138 193.8 139.7 193 140.1 191 139.5 186 139 185.1 138 184.9M431 201.6L428.6 205 429.2 208 428.7 213 429 213.9 431.3 214.5M436.9 202.8L433 201.2 431 201.6M125 210L123.6 213 124 214.1 126 215.1 127.4 214 127.3 212 126.1 210 125 210M173 214.5L172.3 215 170.7 219 170.7 220 173 224.7 175 223.8 176.2 221 175.4 216 174 214.6 173 214.5M427.8 222L426 222 422 219.8 420 221.5 417.8 225 416.9 232 414.7 234 409 235 407.5 234 406.2 231 405 230.2 399 231.3 398.1 233 397.8 237 395.6 240 396.8 242 395.9 243 394 243.9 393 243.6 391 241.2 389 240.7 384.6 243 383.7 244 382.5 247 381 247.9 375 248.6 373 246.5 370 245.4 369.5 245 369.5 240 368.5 239 367 238.8 365.5 240 365.6 241 367.3 243 367.6 247 367 247.4 366.3 247 366.6 246 363.4 246 362 247 360.1 250 359 250.9 358 250.5 355.6 246 353 242.9 350 242.9 347 241.9 346 242.3 343.7 245 340 247 336 253.7 333 256.1 331 256.7 327 255.3 325 251.3 320.1 254 317.4 257 312.2 261 313.1 263 312.8 264 312 264.5 311 264.6 308 263.5 304 265.9 302 264.6 299 264.8 297.7 264 296.4 260 295 259.2 292 261.3 284 264.2 279.1 267 276 270 270 278.3 267.3 280 268.4 282 268.3 283 267 283.3 265 282.6 261 285.6 256 283.3 250 284.1 248.8 283 252 275 250.1 268 247.4 266 246.8 265 247 264 250 262.9 253 263.4 254 263 254.5 262 254 260.7 251 260.8 249 260.3 248 260.4 246 261.8 244 261.8 240 257.4 239 257.1 236 258.1 235 257.4 234 255.5 232 254.8 223 255.7 219 254.7 212 255.9 206 255.5 201 255.9 196 254.9 191 256.3 189 256.1 181 250.9 179.3 248 179 245 178 244.1 176 243.8 171 244.7 164 240 161 237 157 235.2 155.1 232 155.1 230 156.3 227 156 225.8 155 225 151 225.4 146 228.1 144 227.5 143.2 225 145 219 143 215.6 140.9 216 138.4 220 137 221.2 129 223.4 125 221.9 121 222.9 116.6 222 113.5 219 111.9 215.4M134.8 170.1L137 172.2 140 176.4 142 176.9 144 176.4 147 172.3 151.9 170 152.8 169 152.3 168 147 168.3 146 167.8 143.5 165 143.6 162M157.8 147.5L159 148.5 161 148.5 163 147.3 165 144.9 168 144 168.7 142 167.8 137.8M404.7 241L407 240.8 411.2 242 412.2 247 411 248.8 406 248.6 405 248.1 403.6 245 403.8 242 404.7 241M289 246.8L288.2 248 287.7 251 285.8 256 286 258.2 291 256.7 294 256.7 297 255.4 299 255.8 300 255.4 300.5 254 299.5 251 299.7 249 299 248 296 248.1 289 246.8M262 275.5L261 277.4 261 280 264.8 280 265 279 264 276.9 263 275.7 262 275.5M287.6 335L288 334.1 289 334.4 289 336 288 337 288.2 338 289.8 339 292 339.8 298 340.3 299.5 341 300.2 343 300 344.2 299 345.3 295.3 347 295 350 291 355.3 281 358.9 277 358.2 274 359.7 272 359.2 271.5 357 272.5 354 272.1 353 269 352.7 268 352.1 267.4 349 264.9 345 265 343.5 266 343.2 269 346 273 347.2 274 342.3 276 341.3 277.3 339 279 338.3 284 338.9 287.8 337 287.6 335M278 343.3L277.2 344 277.5 345 279 345.8 280 345 279.7 344 278 343.3M182 129.8L181.4 131 181.7 132 183 132.9 184 131 183 129.7 182 129.8M189 131L187.8 132 188 133.4 189 134.4 190.1 133 190 132 189 131M194 132.8L192.5 134 191.8 137 192.4 139 194 139.9 196 139 194.8 134 194 132.8M251 147.8L250 148.1 249.7 149 249.9 153 249 155 248.7 159 245 164.1 244 163.9 242 161.1 241 160.6 236 163.4 235 163.4 233 160.9 228 159.1 226 159.9 225 161 223.4 166 224 166.6 227 166.6 228.5 168 227.6 173 230.5 182 231 187.2 232 187.7 235 186.9 238 187.3 243 185.2 244.7 189 246 189.5 250 186.9 251 187.1 252 192 251.1 194 251.1 196 252 197 253 196.6 255 194.2 256 195.2 257.8 200 257.6 201 256 202.7 255.6 204 256.7 206 258 205.8 260 203.1 265 201 270 196 271.7 196 271 200 274.3 206 272.9 211 274.3 215 274.5 218 274 219.2 271 219.4 269 220.8 268.3 222 269 223.6 271 225.2 277.8 227 276 229.1 273 230.3 273 233.1 274 234.3 279 231.5 280.5 228 282 226.9 282.8 225 281.8 221 281.8 217 280.1 212 281 209 280.6 206 280 204.9 277 205.4 276.3 205 276 204 276.4 200 278.1 195 279 186.7 278 185.7 277 185.9 274 189.6 271 188.5 268 189.1 266.3 188 265.7 186 265.4 181 266.7 177 271 171.8 271.4 170 271 168 268 165 267.7 160 267 158.6 263.2 158 262.2 155 261 153.9 258 154.7 256 151.9 255 151.5 252 152 251 147.8M207 148.4L205.9 150 204.9 155 201.5 161 201.8 163 203 163.3 204 162.7 204.6 162 205.2 158 211 153.6 212 154.5 214 161.5 216 162.9 218 162.5 219.3 161 219.7 159 217.7 154 214 150.1 209 148.2 207 148.4M171.8 150L174 149 175 149.6 176.8 152 176.8 154 176 154.5 169.8 154 170 152.4 171.8 150M151.8 157L154 156.4 156 156.6 158.8 159 158.8 160 156.4 163 153 165.3 150.9 165 149.7 164 150.8 158 151.8 157M298 195.9L296.7 197 296.9 200 296 203 296.9 208 296.2 217 299 220.9 302 220.9 303 221.4 305 224.9 308 224.4 310.3 221 311.6 218 312.2 211 312 210.3 311 210.4 305 214 305.4 202 301 196.2 300 195.6 298 195.9M353 200.7L351.6 202 351 204 350 212 351 213.3 354.4 204 354 201.1 353 200.7M267 205.9L265.9 207 266 209.4 267 209.3 268.2 208 268 206.5 267 205.9M133.8 210L135 209.8 137.1 211 137.7 212 137.2 213 136 213.7 134.2 213 133.8 210M438.7 199L437 200 433 198.5 423 201.6 421.8 203 420.5 209 415.7 219 414 221.9 412 223.9 410 224.5 408.5 223 407.6 220 406 219.3 405 219.5 402.3 222 401 226 399 226.8 396 225.1 394 224.9 391.9 227 389 227.8 388 228.6 383.2 236 380 237.4 379 237.3 372.5 231 371 230.4 367 230.8 364 234 359 236.2 356.6 235 355 232.4 354 232.8 351 236.5 349 237.7 345 238.3 344 238 343 236.6 338 239.6 337 239.6 336.5 239 335 235.1 334 234.3 332 235.5 329 240.6 328 241.1 325 241.2 324 242.1 320 247.7 315.8 250 311 251.6 306 250.2 306 247.8 307.8 242 307 240.8 304 239.6 302 237.2 298.9 240 297.5 243 293 241.8 290 243.3 286 243.8 284.9 245 284.1 249 283 250.2 279 250.5 275 252.1 272 249.9 265 249.3 263 250.3 259 254.5 255 255.8 250 255.8 246 256.5 243.9 256 242.4 254 241.2 247 240 246.5 238 247.4 236.6 250 234 251.2 225 251.5 216 249.9 210 252 205 250.5 199 251.6 194.7 249 193.4 246 192 244.8 187 245.4 183 244.5 180 240.9 176 239.2 174 239 171 240.2 169 239.6 166.9 238 163.4 233 160.3 227 162 220.6 163 220.1 168.7 223 170.2 226 171.5 227 176 226.7 179 228.2 180 227.9 180.5 227 179.6 221 176.9 215 175 212.8 171 211.6 166 211.4 163.5 209 162 208.4 161 208.9 159 212.2 156 211.6 152 213 151 212 149 207 145 204.2 142 203.3 140 204.9 139 205.1 137.8 205 137.1 204 137.3 202 138.9 200 139.7 198 143 197 146 194.1 145.6 185 144.3 182 146.5 179 148 176 151 173.2 157 174 159 171.8 160.4 169 163 166.2 165 165.5 169 165.4 171 162.7 175 161.8 176.5 161 178 159.2 179 159.1 181.4 162 181.3 164 179.8 167 181.5 169 182.5 172 183.9 173 185 173.1 187 172.4 188.5 171 190.2 166 188 164.1 188.1 163 189.2 161 189.7 158 192 155 191.6 154 189 152.9 188.4 152 188.1 147 187.4 146 181 141.7 178 141.6 177.2 141 177 135 176 133.5 174.4 132.5M242 216L240.6 217 240.2 218 240.7 222 241.6 223 245 224.4 246 223.9 246.3 223 245.7 218 244 216 242 216M247 225.6L246 226.2 245.5 228 246.6 229 248 229.1 249.5 228 249.6 227 247 225.6M314 226.4L310.9 230 311.6 232 313 232.6 314.4 232 316.5 229 316 226.7 315 226.2 314 226.4M302 229.7L300.1 232 301 235.1 302 235.8 303.1 231 302 229.7M319 231.5L317.4 234 317.3 237 318 239.1 320 238.3 321.2 235 321 232 320 231.2 319 231.5M288.9 343L290 343 290.5 344 290 345.1 289 345.4 288.5 344 288.9 343M213.8 135L214 134.6 214.8 136 214 138 213 137.8 212.3 137 213.8 135M235 143L234.4 144 234.7 145 238 146.5 238.8 146 239.1 145 238.5 144 236.6 143 235 143M197.9 163L201 166.9 202 166.9 206 164.1 210 162.9 212.3 165 214 168.5 215 168.9 218 168.4 220 171.6 224 172 224.9 173 225.3 177 226.6 181 226.2 183 223.4 188 223.8 190 225 191.2 226 191.5 229 190.4 234 189.9 238 190.8 241 189.8 243 194.9 247 193.8 247.7 195 247.1 201 244.6 204 242.5 208 243.5 209 248.2 211 246 213.4 242 212.7 241 213.2 236 218.9 235.2 222 237 226.8 239.2 229 240.8 233 243 233.8 246 233.4 247.1 234 247.1 235 244.4 237 243 239.3 239.7 240 237 242.3 235 245.3 230 248 226 248.5 222 247.2 217 246.9 212 249.2 210 249.5 202.2 248 193.6 243 188 243 185.9 242 182 238 180.2 234 180.5 231 183.6 228 184.3 226 183.5 222 179.7 216 175 210.8 167 209 165 206.8 160 205 159.6 204 160.2 201 161 200.1 163 199.6 164 198 164 193 163 191.1 158 189.4 157.3 190 157.5 195 152 196.2 150.2 195 148 191 147.6 189 148.6 185 148.5 181 149.8 177 151 175.9 152.8 176 157 180.7 159 181.1 160.6 179 160.6 174 163 169 164 168.1 172 167.5 173.8 166 175 165.8 179.7 173 182 174.4 185 174.8 190 173.6 194 173.7 195 173 195.2 172 194.6 168 195 166.1 197 163.4 197.9 163M435.8 192.2L434 194.5 432 196 429 196.5 427 197.9 425 198.4 423.6 198 422.3 193 421 191.5 420 191.5 418 193.1 416.5 196 416.3 204 416.5 205 418.6 207 418.7 208 418 209.5 414.7 213 414 217 413 218.6 412 218.2 410 215.9 407 215.5 404 216.1 400 214.7 397 217.7 392.4 220 391 221.9 390 222.1 388.2 221 389.3 218 389 215.8 388 215 386 215.4 384 214.2 383 214.2 381 217 381 219 384.4 223 385 226 381 232.3 380 232.5 377 231.1 375 228.2 371 226.8 369.7 225 369.4 223 370.6 215 370 214.6 367 215.5 366.5 214 368.1 210 371.6 207 372.9 205 372.9 204 370 203.4 368 204 365.6 206 360.7 211 359.2 214 358.3 223 359 223.7 360 223.6 364 221.1 364.7 223 364.3 226 362.2 230 361 231.3 359 232 357 229.1 356 228.5 354 228.6 351 229.7 347 228.3 345 228.2 343 229.3 341.1 234 339 235.9 338 235.9 335.7 232 334 231.3 329 236.2 324 236.2 324.2 234 322.9 230 321.4 228 320.9 224 320 222.4 317.7 221 317.3 220 318.3 218 324 210.3 325.5 205 325.1 204 321 207 317.6 211 316 214.1 315 214.5 314.5 213 315.5 210 314.6 207 313 206.1 310 207.5 309 207.6 308.7 207 309.2 204 308.8 201 310.4 196 310 194.1 309 193.9 306 195 305 194.8 302 189.9 296 189.6 292 193 289 194.2 287.9 196 287.6 198 286 197.9 284 196.7 281.2 190 281.2 185 280.6 183 279 182.4 278 182.6 275 184.8 273 185.3 270 184 269 182 268.9 179 269.7 177 273 173.8 273.7 172 272.7 167 272.1 165 270 162.1 269.9 160.6M267.1 155.8L262 152.2 259 151.7 257 149.3 254.4 148 253 145 251 143.9 248 145 245 145.4 242.4 147 241.3 149 240.1 154 238 156.2 237 156.3 235.5 154 235.5 151 230 149.7 227.2 145 226 143.9 225 143.8 222 145.9 221 145.9 216.6 143 216.1 142 216.7 141 219.3 137 221 135.6 225 137.2 226 137 225.9 134 225 132.7 223 131.4 223.2 129 222.5 128 221 127.4 220 127.2 219 127.8 215 133.4 214 133 211 127 210 126.6 209.4 127 208.3 129 208.5 133 207.9 135 204.4 138 203.5 141 202 142.1 202.3 138 200.9 136 197.5 135 196 128.8 195 128.6 193 129.5 192 129.2 190 126.5 187 128.1 184 126.7 181.6 126.9M353 197.8L351 200 349.7 203 347.6 216 348 217.5 352 216.3 354.1 214 354.5 209 355.7 205 355.9 202 355 198 354 197.4 353 197.8M232 198.5L231.1 199 230.8 200 231 204.3 233 204.7 237 204.3 240 205.6 242.1 204 242.6 203 241 201.1 237 201.5 232 198.5M151 201L153 200.1 155.5 201 156.6 203 157.5 208 153 208.9 152 207.8 150.4 204 150.4 202 151 201M291.7 202L293 201.7 295.1 208 295.1 213 293.8 219 293 220.3 290.3 222 290 224 289 225.4 287 226.5 286.4 224 287 222.9 288.9 222 289.7 221 285 218.1 284.1 216 284.2 214 286 208.7 289 206.1 291.7 202M255.7 210L259 210.9 259.2 213 258 215 258.5 219 256.3 221 256.6 223 256 223.9 254 224.3 252 223.7 251.2 223 251.2 222 253.1 219 252.5 217 253 214.7 254.4 211 255.7 210M340 211.9L338.9 214 339 215.8 340 215.9 342.3 213 342 211.6 341 211.4 340 211.9M260.3 218L262 218.1 263 219 262.6 222 263.1 225 265.6 228 266.8 231 268.2 232 268.4 234 266 236.1 263.9 237 262.5 239 259 241.9 256 242.1 255 242.8 255.6 245 258.7 249 258.8 251 258.1 252 256 252.6 250 252.7 248 251.5 245.9 248 246 246.2 247.1 244 246.7 242 248 240.4 250 239.6 254 240.7 255 237.7 258 237.3 259.8 236 261.6 226 258.4 224 259.1 222 259.1 219 260.3 218M166.8 228L167 227.4 168 227.6 172.6 230 173.4 231 173.7 233 172 234.2 169 234.2 167.5 232 166.8 228M285.5 229L290 229.6 295 228.2 296 229.2 296.5 231 296.6 236 295.4 238 291 239.7 287 239.3 282 240.5 281.2 240 280.9 237 282.3 232 284 229.8 285.5 229M312.6 237L314 236.4 314.5 237 314 238.7 313 238.8 312.6 237M268.2 241L272 240.7 272.9 241 273.3 242 271 244.7 270 245.2 269 244.9 268 243.5 267.7 242 268.2 241M412.8 180.3L415 177.7 416 177.3 420 180.6 422.8 179.2M430 188.2L428 193.1 426 194.8 425 194.1 423 189.6 422 188.4 420 188.8 418 190.1 413 196 411.4 195 410 195.3 409.4 197 409.7 198 413 198.2 413.7 200 413.1 206 413.4 209 412.5 211 411 212.4 404 213.1 400 211.8 397.9 213 395 216.4 393 216.8 392 216.4 391.2 214 391.1 205 389.9 200M386.2 197.3L382.2 204 381.6 212 380 214.3 376.2 218 376.1 223 375 224.2 374 224.4 373 223.7 372.4 222 373.2 216 374.6 211 377.5 206 377.6 204 375 200.6 374 200 364 204.3 363.3 201 364 193 359 197.7 358 197.9 355 194.6 352 194.9 348.5 201 346 209.2 341 208.1 339.2 209 338 210.5 335.8 216 337.9 220 338.8 224 338.5 225 335 226.4 331 230.8 330.8 228 333.5 224 333.7 223 332.5 216 331 212.6 330 212.7 328.2 215 328.6 221 327.3 227 326 228.6 323.9 227 321.6 220 322 218 324.7 214 326.2 210 328 207.1 329 206.3 331 208.6 332 208.9 334.3 207 334.5 206 333.5 205 332 204.2 330 204.7 329.5 204 328.9 200 328 197.9 326 197.5 323 200.5 321 200.8 319 199 318.6 198 320.4 195 320.6 192 320 191 317 191.9 316 191 315 188.7 314 188 310 189.9 305 188.8 302 186.8 294 187.4 291 187 287 191.7 286 192 283 187 282.9 182 282.4 181 277 179.4 275.9 178 276.8 174 276.9 171M264 150.8L260 149.8 258 147.1 256 145.8 253 142.4 247 142.6 243 143.6 242 143.2 239 139.7 233.5 137 231 135.1 227 130.6 225 126.8 224 125.9 220 125 218.4 126 216 128.7 215 129.1 213.9 128 212 124.3 210 124 206.7 126 203 131.7 200 131.7 199 131.5 198.2 130 197 125.8 194 125.9 191 123.3 187 125.6 184.3 124.3M201.6 170L203 169.6 206 170.4 210 170.2 213.3 172 217 172.5 219 174 222.2 175 222.7 181 220.1 187 220.3 189 222 193.1 227.6 195 228.4 197 226.5 206 226 207 224 208 223.5 209 222.9 216 224 217.7 229 220.9 230 220.8 231.3 219 232.3 219 232.6 223 237.1 231 238.1 235 238.1 236 233 244 228 245.2 216 244.4 210 246.4 206 246.6 202 245 197 241.1 192 241.3 186 239.7 183.1 236 182.3 233 183 231.5 186.7 228 188.8 223 188.1 221 186 218 184.9 213 183 211.6 179 211.4 177 209.5 172.9 208 171 205.9 165.3 203 165.4 193 164 189.8 161.7 188 160.5 186 161.5 184 163 177.7 165 174.2 165.8 175 167 175.1 170 173.1 172 173.1 182 176.2 197 178.3 199.7 177 200 176 199.3 171 201.6 170M151.4 185L152 184.4 153.1 185 153 186.4 152 187.1 151.2 186 151.4 185M343 186.9L341.2 189 339 193.4 336 200 336 201.9 337 201.8 338 200.2 339.2 197 343 190 343.6 188 343 186.9M215 191.7L215 192.3 216 192.5 216 192 215 191.7M315.9 194L316.7 197 316 197.8 315 197.9 314 197.1 313.8 196 315 194.2 315.9 194M290 211L291 210.5 292 211 293.4 213 293 215.8 292 217.2 290 217.1 288.6 216 288.5 214 290 211M345.9 213L346 214 344 218.8 343 219.5 342 219.2 341.8 218 342.6 216 345 213.2 345.9 213M349.8 220L351 219.4 352.1 220 352.5 221 352.3 222 351 223.1 349.8 223 349.8 220M338.7 228L339 227.4 339 230.4 338 229.5 338.7 228M291.6 232L293 231.1 294 231.1 294.2 233 293 234.7 292 235 291.4 234 291.1 233 291.6 232M385 196.4L382 199.6 378 199.7 376 197.4 375 197.1 370.1 200 366 201.6 365 200.4 364.9 199 366.3 191 365 189 364 189.3 360 193.5 359 193.6 355.7 191 354 190.5 349.8 193 345 204.1 344 205.4 343 205.6 340.2 204 340 202 346.2 188 346.4 185 346 183.7 345 183.2 343 183.8 339 186.2 336 184.6 334.1 185 333.5 186 334 187 337.2 191 335.3 196 333 197.2 331 196.3 329.4 194 327.8 184 327 183.1 325 183.7 320 187.9 318 188.8 317 188.3 316 186 315 185.1 311 186.7 307 187 303 185.2 300 185.1 297 183.2 295.3 183M289.7 184.5L287 185.8 286 185.7 285 184.2 284 179.9 283 178.9 280 178.2 279 177.2 278.9 173.7M262.8 148.7L261 148.1 255.7 142 254.3 141 247 140.6 244 140.9 242.3 139.9M236.1 134.5L233 131.3 228 129.2 225 124.4 221 123.1 219 123.5 216 125.5 212.8 122 209 122.1 206 120.9 204.8 122 203 127 201 129 200 129 199 124 198 122.9 195 123.8 194 123.6 192 121.1 191 121 187 123.6 185.6 123M352.5 174.5L352.6 175 351.2 176 348.6 180 348.6 182 350 184 351 183.9 352 182.8 354.2 175.9M208.5 174L211.1 174 213.4 175 216 177.2 219 178.3 219.7 181 219 183.7 218 184.9 213 187.6 210 187.4 207 187.8 204 186.8 201.5 185 200.8 183 200.8 181 203.6 179 205 176.9 207 176 208 176.2 209 177.4 210 177.3 208.3 175 208.5 174M171.3 176L173 175.9 179 177.8 184 178.2 189 180.1 194 180.8 195.1 182 194.6 185 195.2 187 204 190.1 207 193.7 214 195.8 216 197.7 223 196.8 225 197.3 225.3 198 224.4 203 220.8 208 221.1 215 222 218.4 223 220 231.8 227 233.6 231 233.4 236 231 240.8 230 241.3 226 241 223 242.1 221 242 218 240.1 216.2 238 212 236.2 210 236.8 207 240 203 242.4 201.6 242 198 238.9 193 239.7 191.5 239 189.6 235 189.7 230 191 228.4 193.2 228 193.8 227 194 225 188.7 218 187.6 213 185.6 211 179 207.3 175 206 173 203.7 169 202.6 167.7 201 167.4 197 168 196 169.7 195 168 193.9 167 192.3 166.2 189 169 184.8 172 183.2 173 181.5 173 179 171.3 177 171.3 176M414.9 183L416 182.4 417.9 185 417.9 186 416 187.8 414 188.7 413.2 188 413.2 186 414.9 183M428 186.7L428.1 188 427 190.1 426.2 189 427.3 187M323.6 189L325 188.1 326.8 189 326.3 192 324 193.5 323 192 323.6 189M405.6 197.3L407 201.3 408 202.4 410 203 410.6 204 410.6 206 409.3 209 405 211 403 210.6 399.3 207 399.6 205 399.1 202.4M396.6 205L397.5 207 397.1 208 395 209.8 394 209.8 392.9 203M324.5 219L325 218.6 326 218.8 326.4 220 326.1 222 325 222.7 324 222 323.7 221 324.5 219M347.4 171.4L346.4 173 344.3 180 342 182.2 340 182.9 334.8 180 334.4 178 335 174.8 334 174.9 332.4 178 331 179.4 327 179.7 319 186.3 318 186 316 181.6 312 184 307 184.8 304 183.5 301 183.6 300 183 298.1 179.8M231.5 128.3L229 127.9 228 126.8 227.2 124.6M212.2 120L210 120.1 208.4 118.6M205.8 117.6L202 121.5 201 121.5 199 120.3 195 121.2 193.3 118.7M366.3 186.2L364 186.5 361 189.2 357 188.2 354.8 187 354 185 355.5 178M180.2 180L184 179.9 190.6 183 192 185.3 193 190 194 190.6 202 191.3 204 192.5 205 195 205 200.9 206.1 204 208 205.7 212 205.8 217.9 209 220.9 220 224.4 224 226 227.4 228.6 230 228.1 234 229 236.3 228 236.6 226 234.9 223 235.4 220 235.1 216 235.5 211 234.4 209.5 235 205 238.8 203 239.4 200 236.8 195 236.6 193.6 236 192.5 234 193 232 195 230.9 196 230.9 199 232.4 199.6 232 200.5 229 203 227.1 203 226 201 223.5 196 222.1 194 220.5 191.5 217 190.1 213 188.2 211 182.9 208 180 205.6 176.3 204 175.4 202 175.5 197 174.1 195 170 191.4 169.4 190 170 188.5 173 186.2 176 182 180.2 180M208.8 182L210.8 182 212 183 210 183.5 209 183.2 208.8 182M212.9 182L215 181 216 181.1 217 182 216.5 183 215 183.5 212 183 212.9 182M375.2 191.5L373.6 195 371.6 197 369 198.9 367 199.3 366.7 197 368 190 366.9 187M383.6 195.7L382 196.6 380 196 379.3 195 379.2 193.5M170 199L171.4 199 172 200 171 200.7 169.9 200 170 199M219.8 200L221 200.4 222 201.7 221.7 203 221 203.5 220 203.5 217.4 202 217.4 201 219.8 200M403.1 199.3L404 199.9 404.3 201 403.5 204 406.2 207 406.1 208 405 209 404 208.5 403.2 207 401.3 202 401.3 200.6M345.4 170.4L345 171 341.9 172 343.6 175 343 178 341.4 180 340.6 180 340 179 340.5 177 340.1 176 339 175.9 338 175.1 337.4 171 336 170.4 334 172 331 176.1 326 177.8 320 183.8 318.9 183 319.3 179 318 177.8 317 177.6 315 178.4 311 182 307 182.7 304 181.3 301.6 181 299.6 177.7M201.4 116.7L202.1 117 199.5 117.2M198.8 117.4L197 118.5 195.6 118.2M181.2 182L183 181.4 186 182.4 190.1 187 190 188.7 189 190.2 187 191.1 185 191.1 183.4 192 182.5 194 183 195.3 187 196.3 190 194.2 198 192.8 201 192.7 203 193.9 203.3 196 202 200 203 205.1 205.8 209 209 209.5 209.2 213 210 213.4 212 213.2 215 211.1 216 211.7 222 226 224.5 230 223.8 232 222 233.1 219 233 215 233.7 210 232.7 206 235.1 205 235.3 204 234.4 203.3 231 205 227 204.5 223 207.9 219 208 216.9 199 215.2 195 215.3 190 209.6 185 207 181.4 204 178.3 203 177.4 202 178 195 177 193.3 174.3 191 173.7 189 175 186.2 176 185.5 179 184.9 181.2 182M370.6 191L371 190.5 371.8 191 372.1 192 371 193.6 370 193.2 370 191.9 370.6 191M333 169.1L329.7 173 328.5 173 327.5 171 326 170.6 322 173.9 321 174 318.8 172 318.2 170 318.5 169.5M192.9 197L194 197.1 194.5 198 194.2 204 188 204.8 186.5 204 185.9 202 186.4 201 191 199 192.9 197M212.9 219L214 218.4 215.4 219 216.3 221 216 222.6 213 222.6 212.2 222 212 221 212.9 219M210.2 224L212 223.5 216 225.5 216.2 228 215 230.5 214 230.9 212 230.3 209 229 208.2 228 208.5 226 210.2 224M347.1 171.2L345.9 173 344.2 179 342.7 181 341 182.1 339.3 182 336 179.7 335.4 178 336 174.8 335 173.4 333.1 175 331 178.4 327 179 323 183 319 185.7 317.9 185 317 181.2 316 180.5 312 183.4 307 184.2 304 182.9 300.9 183 298.6 179.2M205.1 117.4L202 120.1 201 120.3 199 119.6 196 120.6 195 120.4 193.9 118.6M231.1 127.8L229 127.3 227.7 125M365.1 185.2L361 187.3 358 187.5 356 186.9 354.9 185 356.3 178M179.6 181L183 180.1 187 181.4 189.5 183 191.9 187 191.2 191 192 192 197 191.4 201 191.6 203 192.1 203.9 193 204.5 195 204.1 200 205.1 204 208 206.5 212 206.8 214 208.2 217 209.1 218 211 220.4 220 227.3 230 227.6 231 226.8 233 223 234.8 216 235 210 234.1 204 238.5 202.5 238 200 235.4 195 235.5 194 235.1 193.4 233 195 231.8 199 233.7 200 233.8 200.6 233 201.1 230 203 228.3 203.6 227 201.5 222 202.5 220 199.8 219 199 221.2 195.9 220 193 217.2 190.8 213 188.9 211 183 207.5 180 205 177.2 204 176.3 203 176.3 198 175.7 196 170.3 190 170.5 189 173 187 175 184.3 178 182.8 179.6 181M374.7 191.2L372.9 195 370 197.7 368 198.5 367.2 198 367.2 197 368.3 192 368.2 188M383.1 195.4L382 196 381 195.8 380 195 379.7 193.7M346.2 170.7L344.7 173 343.2 179 341 181 340 180.8 337.5 177 337 173 336 171.2 334 172.6 331 176.8 326.6 178 320 184.4 319 184.5 318.6 184 318.5 180 318 179 317 178.6 315 179.2 312 182.2 307 183.2 304 181.9 302 182 301 181.6 299.2 178.3M204.1 117L202 118.1 199 118.3 196 119.3 194.9 118.3M181.8 181L184 181.1 187 182.4 190.8 187 190.6 189 188 192.3 184 192.9 183.8 194 185 195 186.9 195 189 193.5 197 192.4 201 192.3 203 193.1 203.7 195 202.7 200 203.9 205 206 207.4 211 208.7 212 210.7 215 210 216.6 211 220 220.8 225.4 230 225.5 231 223.9 233 222 233.8 216 234.1 210 233.2 206 235.9 205 236.3 203.8 236 202.5 232 202.5 231 204.5 227 203.5 223 204 221.7 206.8 219 206.9 218 199 215.8 195 216.3 190 210.6 184 207 181 204.4 178 203.4 176.9 202 177.3 198 176.9 195 173.3 191 173 189 175 185.6 179 184.1 180.4 182 181.8 181M357.1 184L358 183.1 359 184 358 185.3 357.1 185 357.1 184M373.1 190.4L373.5 191 372.2 194 370 195.9 369 195.9 369.8 189M344.8 170L341.4 171 340.1 174 339 174.5 338 170.6 337 169.6 336 169.7 334 171.3 330.3 176 325.9 177 320 182.6 320.5 179 318 176.7 316 176.8 311.5 181 308 182.2 302 180.5 299.9 177.2M182.4 182L184 182 186.1 183 189 186.5 189.4 188 188 189.9 185 190.1 183.2 191 180.1 196 187 197.2 189.7 195 191 194.6 199 193.2 202 193.5 202.9 195 202.5 197 201 200 201.8 204 204.4 210 205 210.8 207 211.3 207.6 214 207 215 196 214.8 193 212.1 191 208.8 187 207.5 184.5 206 182 203.6 178 202 178 199.6 179 196.5 180 196 179.8 195 175 190.7 174.5 188 176 186 179 185.6 180 185 182.4 182M214.3 213L215 212.7 216 213.4 218 216.9 220.6 224 220.5 228 219 229.5 218.3 232 216.7 233 214 233.2 210 232.2 206 234.1 205 233.9 204.1 231 205.3 228 205.5 224 208.8 219 210 215.1 214.3 213M221.7 229L223.2 230 223.1 231 222 231.8 221 231 221.7 229M334.7 169L330.5 174 329 174.9 327 174.3 326 172.3 325 172.6 322 175.5 320 175.1 317 172.6 315 172.7 312.5 178 311 179.2 308 180.3 303 178.6 301.9 177 301.6 174.6M306 170.6L305.3 173 306 174.7 307 175.6 309 175.1 313.2 172 312 170.7 310 171.2 307 170.2 306 170.6M182.6 185L184 184.2 185 185.3 185.2 187 182 188.2 181 190.5 180 191.5 177 190 176.2 189 177 187.7 181 187.6 182.6 185M197.6 195L200 194.5 201.2 195 201.4 196 200 197.6 197 197.8 196.2 199 196.3 201 198.2 203 198.7 205 197.6 207 195 208.6 192.2 206 187 205.9 185.7 205 183 201.6 179.9 201 179.9 200 181 199 183 198.6 187 199 191.4 196 197.6 195M212.8 217L215 216.5 216 217 218.5 223 218.2 226 216.8 230 215 231.9 208 230.4 207.1 230 206.7 229 207.1 226 212.8 217M325.3 169.9L323 172 321 172.6 319.7 171 319.6 169.6M210.8 226L212 225.9 214.2 227 214.6 228 214.2 229 212 229.1 210.5 228 210 227 210.8 226" fill="none" stroke="#1c3044" stroke-width="0.55" stroke-linejoin="round"/>
<path d="M6 178.5L8.3 178.9 10.5 179.6 12.4 181 13.8 182.9 15.7 184.3 17.6 185.7 19.4 187.1 21.5 188.3 23.6 189.4 25.3 190.9 26.6 193 27.2 194.8 28.1 196.5 29.4 197.9 31.6 199 33.3 200.6 34.9 201.8 36.7 203 38.5 204.1 40.1 205 41.8 205.8 43.1 207 44.7 208.3 46.6 208.9 48.5 209.3 49.9 210.4 51.5 211.4 53 212.4 54.7 213.4 56.3 214.6 58.3 215.9 58.6 218.2 58.2 216.2 58 214.1 57.9 212 57.7 209.6 57.2 207.3 56.6 205 55.9 202.7 55.6 200.3 55.3 197.8 54 196 55.4 194.1 57.4 192.5 59.4 192.1 61.5 192 63.1 193.1 65.2 193.4 66.6 194.9 67.2 196.9 67.9 198.6 69.1 199.9 70.7 201 72 202.3 73 203.9 75 204.6 77 204.8 79.2 205.3 81.1 207.1 83 209.1 84.5 210.2 86 211.5 87.1 213.2 88.8 214.3 90.8 215 92.5 216.1 94 217.6 95.5 219.1 97 220.3 98.7 221.5 100.5 222.4 102.3 221.2 104.1 220.4 106 219.6 108 219 109.6 218.1 111.1 216.9 113.1 216.3 115.8 218.3 117.4 219.3 119.2 220.1 120.7 221.4 122.3 222.5 123.9 223.7 125.8 225.1 128.1 225.9 129.6 226.8 130.9 228.1 132.4 229.1 133.9 230.2 135.7 231.7 137.6 232.9 139.5 233.7 141.1 234.6 142.9 235.3 144.3 236.4 145.5 237.8 146.9 239 148.2 240.2 149.9 241.3 151.6 242.4 153.1 243.8 154.5 245.2 156 246.6 157 248.4 158.4 249.8 160.1 251 161.6 252.4 162.8 254 163.6 255.8 164.4 257.6 165.9 258.8 167.5 260 168.6 261.5 169.9 263.1 171.1 264.8 172.4 266.4 173.5 268.2 174.3 270.4 175.7 272.1 177 273.9 178.2 275.9 179.7 277.5 180.5 279.4 180.9 281.6 181.9 283.5 182.5 285.4 183 287.4 183.9 289.3 184.6 291.1 185 292.9 185.2 294.7 185.2 296.6 185.6 298.3 186.2 300.1 186.9 302.1 187.8 304 188.7 305.9 189.1 308.2 188.9 310.6 189.1 312.9 190.3 314.5 191.4 316.2 191.5 318.1 191.4 320 191.7 322 192 324.1 192.2 326.1 192.8 328 193.6 330 193.9 332 194.1 334 194 336 193.7 338.1 193.7 340 194.4 341.8 195.2 343.6 195.4 345.5 195.5 347.3 195.9 349.1 195.8 350.9 195.5 352.8 195.7 354.6 196.1 356.4 196 358.2 195.9 360 196.6 362.1 197.4 364.1 197.2 366.2 197.1 368.3 197.4 370.4 197.8 372.7 196.2 374.2 198.2 376 198.5 377.9 199.1 379.7 199.2 381.6 199.6 383.5 200.5 385.2 201.6 387 201.4 388.9 200.5 391 200.8 392.8 201.2 394.7 201.1 396.5 201.2 398.3 201.4 400.1 201.8 401.9 202.3 403.6 202.7 405.4 202.4 407.2 202.2 409.1 202.5 410.8 202.8 412.6 203 414.5 203.1 416.3 203.6 418.1 204.2 419.8 204.5 421.6 204.9 423.4 205.2 425.2 205.2 427 205.4 428.8 205.7 430.6 205.9 432.3 206.4 434.1 206.6 435.9 206.3 437.8 207 439 6 439Z" fill="#d6defd" stroke="#555" stroke-width="0.95" stroke-linejoin="round"/>
<path d="M61.5 218.6L66.6 217.6L64.2 223.6Z" fill="#fff" stroke="#666" stroke-width="0.6"/>
<path d="M170.2 135.2L189.2 151.2 218.3 171.6 230 183.3 238.7 195 247.5 209.5 262 224 276.6 235.8 288.3 247.4 296 256" fill="none" stroke="#151515" stroke-width="1.1"/>
<path d="M188 308L210 300 230 293 257 283 280 271 310 252 350 236 380 224.5 393 214" fill="none" stroke="#151515" stroke-width="1.1"/>
<path d="M189.3 296.4L193.1 298.3 199.8 296.4 207.4 291.7 213.1 284 218.8 274.5 224.5 261.2 230 250" fill="none" stroke="#222" stroke-width="1.1" stroke-dasharray="2.6 1.6"/>
<path d="M197.8 110.9L250 130.5 286 144.5 322.7 159 359 172 370 183 384.5 190 390.4 194.5 392.5 197.5 393.3 204.7" fill="none" stroke="#222" stroke-width="1.1" stroke-dasharray="2.6 1.6"/>
<path d="M197.8 110.9L180 126.9 176.9 129.8 150 151.2 128 168.1 114.9 178.6 114.1 191.4 114.1 215 115.7 218.1 121 225 128.6 233.1 139 245.5 148.6 256.9 158.1 268.3 167.6 279.7 175.2 291.1 179 300 183 310 186.5 320 190 332 193 345 195 358 196.4 369.7 199.5 380 201 392 203.6 411 207.4 422.3" fill="none" stroke="#222" stroke-width="1.1" stroke-dasharray="2.6 1.6"/>
<path d="M120.4 186L120.2 200 121.4 213.4 124.5 223 134.3 233.1 144.7 245.5 154.3 256.9 163.8 268.3 173.3 280.7 179 291.1 182.8 300 186.5 310 190.5 320 193.5 332 196 345 197.5 358 198.8 368" fill="none" stroke="#222" stroke-width="1.1" stroke-dasharray="2.6 1.6"/>
<path d="M442 192L426 232 404 270 376 325 348.6 379.2 287.5 400 207.4 422.3" fill="none" stroke="#222" stroke-width="1.1" stroke-dasharray="2.6 1.6"/>
<path d="M393 214L403.6 219.8 415.5 227 426 232" fill="none" stroke="#222" stroke-width="1.1" stroke-dasharray="2.6 1.6"/>
<circle cx="155.2" cy="222.7" r="2.4" fill="#f0ec2a" stroke="#333" stroke-width="0.8"/>
<circle cx="394.3" cy="262.7" r="2.4" fill="#f0ec2a" stroke="#333" stroke-width="0.8"/>
<circle cx="236.4" cy="359.4" r="2.4" fill="#f0ec2a" stroke="#333" stroke-width="0.8"/>
<circle cx="500.1" cy="327.2" r="2.4" fill="#f0ec2a" stroke="#333" stroke-width="0.8"/>
<circle cx="209.6" cy="431" r="2.4" fill="#f0ec2a" stroke="#333" stroke-width="0.8"/>
<text x="117" y="234.2" font-family="&quot;DejaVu Sans&quot;, sans-serif" font-size="12" font-weight="bold" fill="#000" textLength="43" lengthAdjust="spacingAndGlyphs">Massa</text>
<text x="259.8" y="298.3" font-family="&quot;DejaVu Sans&quot;, sans-serif" font-size="12" font-weight="bold" fill="#000" textLength="39.6" lengthAdjust="spacingAndGlyphs">Lucca</text>
<text x="401.8" y="265.1" font-family="&quot;DejaVu Sans&quot;, sans-serif" font-size="12" font-weight="bold" fill="#000" textLength="47.7" lengthAdjust="spacingAndGlyphs">Pistoia</text>
<text x="235" y="354.8" font-family="&quot;DejaVu Sans&quot;, sans-serif" font-size="12" font-weight="bold" fill="#000" textLength="27.5" lengthAdjust="spacingAndGlyphs">Pisa</text>
<text x="152.2" y="422.3" font-family="&quot;DejaVu Sans&quot;, sans-serif" font-size="12" font-weight="bold" fill="#000" textLength="52.7" lengthAdjust="spacingAndGlyphs">Livorno</text>
<text x="449.2" y="321.1" font-family="&quot;DejaVu Sans&quot;, sans-serif" font-size="12" font-weight="bold" fill="#000" textLength="51.8" lengthAdjust="spacingAndGlyphs">Firenze</text>
<path d="M206 124.7L211.3 134.2L200.7 134.2Z" fill="#4ee0ee" stroke="#000" stroke-width="1.4" stroke-linejoin="miter"/>
<path d="M247 141.7L252.3 151.2L241.7 151.2Z" fill="#4ee0ee" stroke="#000" stroke-width="1.4" stroke-linejoin="miter"/>
<path d="M260 147.7L265.3 157.2L254.7 157.2Z" fill="#4ee0ee" stroke="#000" stroke-width="1.4" stroke-linejoin="miter"/>
<path d="M181.5 162.7L186.8 172.2L176.2 172.2Z" fill="#4ee0ee" stroke="#000" stroke-width="1.4" stroke-linejoin="miter"/>
<path d="M171 175.7L176.3 185.2L165.7 185.2Z" fill="#4ee0ee" stroke="#000" stroke-width="1.4" stroke-linejoin="miter"/>
<path d="M134 184.7L139.3 194.2L128.7 194.2Z" fill="#4ee0ee" stroke="#000" stroke-width="1.4" stroke-linejoin="miter"/>
<path d="M228.5 173.2L233.8 182.7L223.2 182.7Z" fill="#4ee0ee" stroke="#000" stroke-width="1.4" stroke-linejoin="miter"/>
<path d="M238.5 183.2L243.8 192.7L233.2 192.7Z" fill="#4ee0ee" stroke="#000" stroke-width="1.4" stroke-linejoin="miter"/>
<path d="M229 187.4L234.3 196.9L223.7 196.9Z" fill="#4ee0ee" stroke="#000" stroke-width="1.4" stroke-linejoin="miter"/>
<path d="M200 187.2L205.3 196.7L194.7 196.7Z" fill="#4ee0ee" stroke="#000" stroke-width="1.4" stroke-linejoin="miter"/>
<path d="M171 200.5L176.3 210L165.7 210Z" fill="#4ee0ee" stroke="#000" stroke-width="1.4" stroke-linejoin="miter"/>
<path d="M135 205.4L140.3 214.9L129.7 214.9Z" fill="#4ee0ee" stroke="#000" stroke-width="1.4" stroke-linejoin="miter"/>
<path d="M207.5 203.3L212.8 212.8L202.2 212.8Z" fill="#4ee0ee" stroke="#000" stroke-width="1.4" stroke-linejoin="miter"/>
<path d="M191 208.2L196.3 217.7L185.7 217.7Z" fill="#4ee0ee" stroke="#000" stroke-width="1.4" stroke-linejoin="miter"/>
<path d="M246.7 207.2L252 216.7L241.4 216.7Z" fill="#4ee0ee" stroke="#000" stroke-width="1.4" stroke-linejoin="miter"/>
<path d="M159.7 222.8L165 232.3L154.4 232.3Z" fill="#4ee0ee" stroke="#000" stroke-width="1.4" stroke-linejoin="miter"/>
<path d="M196.5 229.8L201.8 239.3L191.2 239.3Z" fill="#4ee0ee" stroke="#000" stroke-width="1.4" stroke-linejoin="miter"/>
<path d="M226.6 231.5L231.9 241L221.3 241Z" fill="#4ee0ee" stroke="#000" stroke-width="1.4" stroke-linejoin="miter"/>
<path d="M185.2 257.7L190.5 267.2L179.9 267.2Z" fill="#4ee0ee" stroke="#000" stroke-width="1.4" stroke-linejoin="miter"/>
<path d="M189.6 285.3L194.9 294.8L184.3 294.8Z" fill="#4ee0ee" stroke="#000" stroke-width="1.4" stroke-linejoin="miter"/>
<path d="M257 279.4L262.3 288.9L251.7 288.9Z" fill="#4ee0ee" stroke="#000" stroke-width="1.4" stroke-linejoin="miter"/>
<path d="M275 264.5L280.3 274L269.7 274Z" fill="#4ee0ee" stroke="#000" stroke-width="1.4" stroke-linejoin="miter"/>
<path d="M269 298.4L274.3 307.9L263.7 307.9Z" fill="#4ee0ee" stroke="#000" stroke-width="1.4" stroke-linejoin="miter"/>
<path d="M262 336.2L267.3 345.7L256.7 345.7Z" fill="#4ee0ee" stroke="#000" stroke-width="1.4" stroke-linejoin="miter"/>
<path d="M241.6 355.7L246.9 365.2L236.3 365.2Z" fill="#4ee0ee" stroke="#000" stroke-width="1.4" stroke-linejoin="miter"/>
<path d="M278.7 349L284 358.5L273.4 358.5Z" fill="#4ee0ee" stroke="#000" stroke-width="1.4" stroke-linejoin="miter"/>
<path d="M219.4 364.7L224.7 374.2L214.1 374.2Z" fill="#4ee0ee" stroke="#000" stroke-width="1.4" stroke-linejoin="miter"/>
<path d="M234.7 388.3L240 397.8L229.4 397.8Z" fill="#4ee0ee" stroke="#000" stroke-width="1.4" stroke-linejoin="miter"/>
<path d="M308.5 375.4L313.8 384.9L303.2 384.9Z" fill="#4ee0ee" stroke="#000" stroke-width="1.4" stroke-linejoin="miter"/>
<path d="M317.7 323.4L323 332.9L312.4 332.9Z" fill="#4ee0ee" stroke="#000" stroke-width="1.4" stroke-linejoin="miter"/>
<path d="M316.6 292.4L321.9 301.9L311.3 301.9Z" fill="#4ee0ee" stroke="#000" stroke-width="1.4" stroke-linejoin="miter"/>
<path d="M325.3 274L330.6 283.5L320 283.5Z" fill="#4ee0ee" stroke="#000" stroke-width="1.4" stroke-linejoin="miter"/>
<path d="M350.3 273.7L355.6 283.2L345 283.2Z" fill="#4ee0ee" stroke="#000" stroke-width="1.4" stroke-linejoin="miter"/>
<path d="M363.9 287.3L369.2 296.8L358.6 296.8Z" fill="#4ee0ee" stroke="#000" stroke-width="1.4" stroke-linejoin="miter"/>
<path d="M352 261.5L357.3 271L346.7 271Z" fill="#4ee0ee" stroke="#000" stroke-width="1.4" stroke-linejoin="miter"/>
<path d="M333.6 246.7L338.9 256.2L328.3 256.2Z" fill="#4ee0ee" stroke="#000" stroke-width="1.4" stroke-linejoin="miter"/>
<path d="M309.1 242.7L314.4 252.2L303.8 252.2Z" fill="#4ee0ee" stroke="#000" stroke-width="1.4" stroke-linejoin="miter"/>
<path d="M281 237.7L286.3 247.2L275.7 247.2Z" fill="#4ee0ee" stroke="#000" stroke-width="1.4" stroke-linejoin="miter"/>
<path d="M394.2 249.9L399.5 259.4L388.9 259.4Z" fill="#4ee0ee" stroke="#000" stroke-width="1.4" stroke-linejoin="miter"/>
<path d="M357.2 226.1L362.5 235.6L351.9 235.6Z" fill="#4ee0ee" stroke="#000" stroke-width="1.4" stroke-linejoin="miter"/>
<path d="M373.3 231.9L378.6 241.4L368 241.4Z" fill="#4ee0ee" stroke="#000" stroke-width="1.4" stroke-linejoin="miter"/>
<path d="M389 221.9L394.3 231.4L383.7 231.4Z" fill="#4ee0ee" stroke="#000" stroke-width="1.4" stroke-linejoin="miter"/>
<path d="M353.2 206.2L358.5 215.7L347.9 215.7Z" fill="#4ee0ee" stroke="#000" stroke-width="1.4" stroke-linejoin="miter"/>
<path d="M345 197.3L350.3 206.8L339.7 206.8Z" fill="#4ee0ee" stroke="#000" stroke-width="1.4" stroke-linejoin="miter"/>
<path d="M336.3 182.2L341.6 191.7L331 191.7Z" fill="#4ee0ee" stroke="#000" stroke-width="1.4" stroke-linejoin="miter"/>
<path d="M336.3 172.5L341.6 182L331 182Z" fill="#4ee0ee" stroke="#000" stroke-width="1.4" stroke-linejoin="miter"/>
<path d="M314.7 169.3L320 178.8L309.4 178.8Z" fill="#4ee0ee" stroke="#000" stroke-width="1.4" stroke-linejoin="miter"/>
<path d="M283.9 210.9L286.3 215.2L281.5 215.2Z" fill="#4ee0ee" stroke="#000" stroke-width="0.6" stroke-linejoin="miter"/>
<text x="289.2" y="116" font-family="&quot;DejaVu Sans&quot;, sans-serif" font-size="13" font-weight="bold" fill="#000" textLength="50" lengthAdjust="spacingAndGlyphs">Area 3</text>
<text x="81.3" y="267.9" font-family="&quot;DejaVu Sans&quot;, sans-serif" font-size="13" font-weight="bold" fill="#000" textLength="48.7" lengthAdjust="spacingAndGlyphs">Area 1</text>
<text x="128.7" y="347.6" font-family="&quot;DejaVu Sans&quot;, sans-serif" font-size="13" font-weight="bold" fill="#000" textLength="50.2" lengthAdjust="spacingAndGlyphs">Area 2</text>
<text x="389.4" y="357.4" font-family="&quot;DejaVu Sans&quot;, sans-serif" font-size="13" font-weight="bold" fill="#000" textLength="50.4" lengthAdjust="spacingAndGlyphs">Area 4</text>
<path d="M304.5 129.5L293.7 144.5" stroke="#000" stroke-width="1.5" fill="none"/><path d="M288 152.5L291.4 138.9L293.7 144.5L299.8 145Z" fill="#000"/>
<path d="M133.3 265.7L165.1 259" stroke="#000" stroke-width="1.5" fill="none"/><path d="M174.7 257L163 264.8L165.1 259L160.9 254.6Z" fill="#000"/>
<path d="M168 334.5L215.1 295" stroke="#000" stroke-width="1.5" fill="none"/><path d="M222.6 288.7L216 301L215.1 295L209.3 293.1Z" fill="#000"/>
<path d="M406 343.5L370.3 331.2" stroke="#000" stroke-width="1.5" fill="none"/><path d="M361 328L375 327.3L370.3 331.2L371.6 337.2Z" fill="#000"/>
<path d="M27.4 284.6L29.6 288.6L25.2 288.6Z" fill="#4ee0ee" stroke="#000" stroke-width="0.8"/>
<text x="37.6" y="289.8" font-family="&quot;DejaVu Sans Condensed&quot;, sans-serif" font-size="8.8" fill="#2a2e36" textLength="39.3" lengthAdjust="spacingAndGlyphs">Rain gauge</text>
<text x="20.8" y="304.2" font-family="&quot;DejaVu Sans Condensed&quot;, sans-serif" font-size="8.8" fill="#2a2e36" textLength="113.4" lengthAdjust="spacingAndGlyphs">Mean annual precipitation [mm]</text>
<rect x="20.6" y="309.4" width="13.4" height="7.2" fill="#f6f8fc" stroke="#a8b0c0" stroke-width="0.6"/>
<text x="37.6" y="316.2" font-family="&quot;DejaVu Sans Condensed&quot;, sans-serif" font-size="8.8" fill="#2a2e36" textLength="38.7" lengthAdjust="spacingAndGlyphs">880 – 1000</text>
<rect x="20.6" y="321.8" width="13.4" height="7.2" fill="#e1e9f1" stroke="#a8b0c0" stroke-width="0.6"/>
<text x="37.6" y="328.6" font-family="&quot;DejaVu Sans Condensed&quot;, sans-serif" font-size="8.8" fill="#2a2e36" textLength="43.5" lengthAdjust="spacingAndGlyphs">1000 – 1250</text>
<rect x="20.6" y="334.2" width="13.4" height="7.2" fill="#d2dfed" stroke="#a8b0c0" stroke-width="0.6"/>
<text x="37.6" y="341" font-family="&quot;DejaVu Sans Condensed&quot;, sans-serif" font-size="8.8" fill="#2a2e36" textLength="43.5" lengthAdjust="spacingAndGlyphs">1250 – 1500</text>
<rect x="20.6" y="346.6" width="13.4" height="7.2" fill="#bcd6ee" stroke="#a8b0c0" stroke-width="0.6"/>
<text x="37.6" y="353.4" font-family="&quot;DejaVu Sans Condensed&quot;, sans-serif" font-size="8.8" fill="#2a2e36" textLength="43.5" lengthAdjust="spacingAndGlyphs">1500 – 1750</text>
<rect x="20.6" y="359" width="13.4" height="7.2" fill="#9dc9ea" stroke="#a8b0c0" stroke-width="0.6"/>
<text x="37.6" y="365.8" font-family="&quot;DejaVu Sans Condensed&quot;, sans-serif" font-size="8.8" fill="#2a2e36" textLength="43.5" lengthAdjust="spacingAndGlyphs">1750 – 2000</text>
<rect x="20.6" y="371.4" width="13.4" height="7.2" fill="#7ab5e0" stroke="#a8b0c0" stroke-width="0.6"/>
<text x="37.6" y="378.2" font-family="&quot;DejaVu Sans Condensed&quot;, sans-serif" font-size="8.8" fill="#2a2e36" textLength="43.5" lengthAdjust="spacingAndGlyphs">2000 – 2250</text>
<rect x="20.6" y="383.9" width="13.4" height="7.2" fill="#5a9fd8" stroke="#a8b0c0" stroke-width="0.6"/>
<text x="37.6" y="390.7" font-family="&quot;DejaVu Sans Condensed&quot;, sans-serif" font-size="8.8" fill="#2a2e36" textLength="43.5" lengthAdjust="spacingAndGlyphs">2250 – 2500</text>
<rect x="20.6" y="396.3" width="13.4" height="7.2" fill="#3f86cc" stroke="#a8b0c0" stroke-width="0.6"/>
<text x="37.6" y="403.1" font-family="&quot;DejaVu Sans Condensed&quot;, sans-serif" font-size="8.8" fill="#2a2e36" textLength="43.5" lengthAdjust="spacingAndGlyphs">2500 – 2750</text>
<rect x="20.6" y="408.7" width="13.4" height="7.2" fill="#2e69b2" stroke="#a8b0c0" stroke-width="0.6"/>
<text x="37.6" y="415.5" font-family="&quot;DejaVu Sans Condensed&quot;, sans-serif" font-size="8.8" fill="#2a2e36" textLength="43.5" lengthAdjust="spacingAndGlyphs">2750 – 3000</text>
<rect x="20.6" y="421.1" width="13.4" height="7.2" fill="#2a4a86" stroke="#a8b0c0" stroke-width="0.6"/>
<text x="37.6" y="427.9" font-family="&quot;DejaVu Sans Condensed&quot;, sans-serif" font-size="8.8" fill="#2a2e36" textLength="43.5" lengthAdjust="spacingAndGlyphs">3000 – 3210</text>
<path d="M400.7 14.2V141.3M379.3 123.1H529.4M422.2 14.2V141.3M379.3 105H529.4M443.6 14.2V141.3M379.3 86.8H529.4M465.1 14.2V141.3M379.3 68.7H529.4M486.5 14.2V141.3M379.3 50.5H529.4M508 14.2V141.3M379.3 32.4H529.4" stroke="#e4e4e4" stroke-width="0.8" fill="none"/>
<rect x="379.3" y="14.2" width="150.09999999999997" height="127.10000000000001" fill="none" stroke="#c8c8c8" stroke-width="0.9"/>
<path d="M373.3 144.2L523.8 17.2" stroke="#e89a9a" stroke-width="0.9"/>
<circle cx="415.7" cy="106.3" r="1.25" fill="#4a72c0"/>
<circle cx="417.4" cy="103" r="1.25" fill="#4a72c0"/>
<circle cx="419.8" cy="107.9" r="1.25" fill="#4a72c0"/>
<circle cx="422.3" cy="102.2" r="1.25" fill="#4a72c0"/>
<circle cx="425.5" cy="104.6" r="1.25" fill="#4a72c0"/>
<circle cx="425.5" cy="95.6" r="1.25" fill="#4a72c0"/>
<circle cx="428.8" cy="99.7" r="1.25" fill="#4a72c0"/>
<circle cx="429.6" cy="102.2" r="1.25" fill="#4a72c0"/>
<circle cx="431.3" cy="99.2" r="1.25" fill="#4a72c0"/>
<circle cx="432.9" cy="88.8" r="1.25" fill="#4a72c0"/>
<circle cx="433.7" cy="93.2" r="1.25" fill="#4a72c0"/>
<circle cx="438.6" cy="92.7" r="1.25" fill="#4a72c0"/>
<circle cx="441.9" cy="92.4" r="1.25" fill="#4a72c0"/>
<circle cx="441.1" cy="79.3" r="1.25" fill="#4a72c0"/>
<circle cx="441.9" cy="85.8" r="1.25" fill="#4a72c0"/>
<circle cx="443.6" cy="86.6" r="1.25" fill="#4a72c0"/>
<circle cx="445.2" cy="87.5" r="1.25" fill="#4a72c0"/>
<circle cx="446.8" cy="74.7" r="1.25" fill="#4a72c0"/>
<circle cx="449.3" cy="87.5" r="1.25" fill="#4a72c0"/>
<circle cx="450.1" cy="78.5" r="1.25" fill="#4a72c0"/>
<circle cx="451.7" cy="79.3" r="1.25" fill="#4a72c0"/>
<circle cx="453.4" cy="80.1" r="1.25" fill="#4a72c0"/>
<circle cx="455" cy="81.7" r="1.25" fill="#4a72c0"/>
<circle cx="455" cy="70.3" r="1.25" fill="#4a72c0"/>
<circle cx="456.6" cy="67.5" r="1.25" fill="#4a72c0"/>
<circle cx="459.1" cy="81.7" r="1.25" fill="#4a72c0"/>
<circle cx="462" cy="66.5" r="1.25" fill="#4a72c0"/>
<circle cx="468.1" cy="64.2" r="1.25" fill="#4a72c0"/>
<circle cx="468.9" cy="74" r="1.25" fill="#4a72c0"/>
<circle cx="470.6" cy="61" r="1.25" fill="#4a72c0"/>
<circle cx="477.1" cy="61.3" r="1.25" fill="#4a72c0"/>
<circle cx="477.9" cy="60.5" r="1.25" fill="#4a72c0"/>
<circle cx="482" cy="62.1" r="1.25" fill="#4a72c0"/>
<circle cx="484.5" cy="59.3" r="1.25" fill="#4a72c0"/>
<circle cx="417.7" cy="102.6" r="1.25" fill="#4a72c0"/>
<circle cx="424.8" cy="96.1" r="1.25" fill="#4a72c0"/>
<circle cx="436" cy="90.5" r="1.25" fill="#4a72c0"/>
<circle cx="447" cy="84" r="1.25" fill="#4a72c0"/>
<circle cx="420.5" cy="104" r="1.25" fill="#4a72c0"/>
<circle cx="427" cy="101" r="1.25" fill="#4a72c0"/>
<circle cx="440" cy="89.5" r="1.25" fill="#4a72c0"/>
<circle cx="474" cy="61.8" r="1.25" fill="#4a72c0"/>
<circle cx="432.8" cy="54.4" r="1.5" fill="#ec7d32"/>
<circle cx="441" cy="62.2" r="1.5" fill="#ec7d32"/>
<circle cx="457.5" cy="95.6" r="1.5" fill="#ec7d32"/>
<circle cx="499.1" cy="65" r="1.5" fill="#ec7d32"/>
<circle cx="505" cy="57.5" r="1.5" fill="#ec7d32"/>
<path d="M414.9 107.1L483.6 56.4" stroke="#1a1a1a" stroke-width="1.2" stroke-dasharray="2 1.4"/>
<text x="371.2" y="143.9" font-family="&quot;Liberation Sans&quot;, sans-serif" font-size="7.8" font-weight="bold" fill="#111" text-anchor="end">0</text>
<text x="379.3" y="154.8" font-family="&quot;Liberation Sans&quot;, sans-serif" font-size="7.8" font-weight="bold" fill="#111" text-anchor="middle">0</text>
<text x="371.2" y="125.7" font-family="&quot;Liberation Sans&quot;, sans-serif" font-size="7.8" font-weight="bold" fill="#111" text-anchor="end">500</text>
<text x="400.7" y="154.8" font-family="&quot;Liberation Sans&quot;, sans-serif" font-size="7.8" font-weight="bold" fill="#111" text-anchor="middle">500</text>
<text x="371.2" y="107.6" font-family="&quot;Liberation Sans&quot;, sans-serif" font-size="7.8" font-weight="bold" fill="#111" text-anchor="end">1000</text>
<text x="422.2" y="154.8" font-family="&quot;Liberation Sans&quot;, sans-serif" font-size="7.8" font-weight="bold" fill="#111" text-anchor="middle">1000</text>
<text x="371.2" y="89.4" font-family="&quot;Liberation Sans&quot;, sans-serif" font-size="7.8" font-weight="bold" fill="#111" text-anchor="end">1500</text>
<text x="443.6" y="154.8" font-family="&quot;Liberation Sans&quot;, sans-serif" font-size="7.8" font-weight="bold" fill="#111" text-anchor="middle">1500</text>
<text x="371.2" y="71.3" font-family="&quot;Liberation Sans&quot;, sans-serif" font-size="7.8" font-weight="bold" fill="#111" text-anchor="end">2000</text>
<text x="465.1" y="154.8" font-family="&quot;Liberation Sans&quot;, sans-serif" font-size="7.8" font-weight="bold" fill="#111" text-anchor="middle">2000</text>
<text x="371.2" y="53.1" font-family="&quot;Liberation Sans&quot;, sans-serif" font-size="7.8" font-weight="bold" fill="#111" text-anchor="end">2500</text>
<text x="486.5" y="154.8" font-family="&quot;Liberation Sans&quot;, sans-serif" font-size="7.8" font-weight="bold" fill="#111" text-anchor="middle">2500</text>
<text x="371.2" y="35" font-family="&quot;Liberation Sans&quot;, sans-serif" font-size="7.8" font-weight="bold" fill="#111" text-anchor="end">3000</text>
<text x="508" y="154.8" font-family="&quot;Liberation Sans&quot;, sans-serif" font-size="7.8" font-weight="bold" fill="#111" text-anchor="middle">3000</text>
<text x="371.2" y="16.8" font-family="&quot;Liberation Sans&quot;, sans-serif" font-size="7.8" font-weight="bold" fill="#111" text-anchor="end">3500</text>
<text x="529.4" y="154.8" font-family="&quot;Liberation Sans&quot;, sans-serif" font-size="7.8" font-weight="bold" fill="#111" text-anchor="middle">3500</text>
<text x="523.5" y="130" font-family="&quot;Liberation Sans&quot;, sans-serif" font-size="7" font-weight="bold" fill="#222" textLength="42" lengthAdjust="spacingAndGlyphs" text-anchor="end">y = 0.9x + 191</text>
<text x="523.5" y="139.8" font-family="&quot;Liberation Sans&quot;, sans-serif" font-size="7" font-weight="bold" fill="#222" textLength="24.3" lengthAdjust="spacingAndGlyphs" text-anchor="end">R² = 0.9</text>
<text transform="translate(351.8 93.9) rotate(-90)" font-family="&quot;DejaVu Sans Condensed&quot;, sans-serif" font-size="9.8" fill="#303030" textLength="50.5" lengthAdjust="spacingAndGlyphs">Interpolated</text>
<text x="431.2" y="164.6" font-family="&quot;DejaVu Sans Condensed&quot;, sans-serif" font-size="9.8" fill="#303030" textLength="39.6" lengthAdjust="spacingAndGlyphs">Observed</text>
<rect x="284.2" y="425" width="191.4" height="5.8" fill="#fff" stroke="#000" stroke-width="0.8"/>
<rect x="284.2" y="425" width="95.5" height="2.9" fill="#000"/>
<rect x="379.7" y="427.9" width="95.9" height="2.9" fill="#000"/>
<text x="284.2" y="419.2" font-family="&quot;DejaVu Sans&quot;, sans-serif" font-size="9" font-weight="bold" fill="#000" text-anchor="middle">0</text>
<text x="380" y="419.2" font-family="&quot;DejaVu Sans&quot;, sans-serif" font-size="9" font-weight="bold" fill="#000" text-anchor="middle">25</text>
<text x="470.2" y="419.2" font-family="&quot;DejaVu Sans&quot;, sans-serif" font-size="9" font-weight="bold" fill="#000" textLength="28.4" lengthAdjust="spacingAndGlyphs">50 km</text>
<text x="22.4" y="25.6" font-family="&quot;Liberation Serif&quot;, serif" font-size="13.7" font-weight="bold" fill="#000" text-anchor="middle">N</text>
<path d="M22.2 29.3L16.2 52.5L22.2 58.8Z" fill="#fff" stroke="#000" stroke-width="0.7" stroke-linejoin="round"/>
<path d="M22.2 29.3L28.1 52.5L22.2 58.8Z" fill="#000" stroke="#000" stroke-width="0.7" stroke-linejoin="round"/>
<rect x="6.5" y="6" width="536" height="433" fill="none" stroke="#9a9a9a" stroke-width="1.4"/>
</svg>
</body></html>
